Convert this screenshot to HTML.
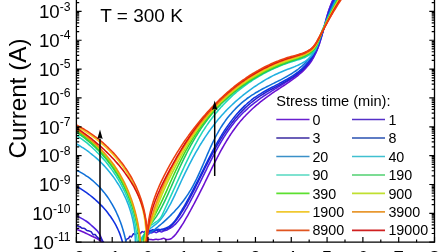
<!DOCTYPE html><html><head><meta charset="utf-8"><style>html,body{margin:0;padding:0;background:#fff;overflow:hidden}svg{display:block}text{font-family:"Liberation Sans",Arial,sans-serif;fill:#000}</style></head><body>
<svg width="448" height="252" viewBox="0 0 448 252">
<defs><clipPath id="pa"><rect x="76.40" y="-20" width="358.10" height="262.20"/></clipPath></defs>
<g clip-path="url(#pa)" fill="none" stroke-width="1.55" stroke-linejoin="round" stroke-linecap="round">
<path stroke="#6a10d0" d="M76.40,229.40 C77.33,229.75 80.28,230.80 82.00,231.50 C83.72,232.20 85.03,232.82 86.70,233.60 C88.37,234.38 90.22,235.32 92.00,236.20 C93.78,237.08 95.78,237.93 97.40,238.90 C99.02,239.87 100.98,241.48 101.70,242.00"/>
<path stroke="#6a10d0" d="M147.50,242.00 C147.57,241.60 147.48,240.03 147.90,239.60 C148.32,239.17 149.15,239.37 150.00,239.40 C150.85,239.43 152.00,239.82 153.00,239.80 C154.00,239.78 155.08,239.33 156.00,239.30 C156.92,239.27 157.67,239.63 158.50,239.60 C159.33,239.57 160.17,239.33 161.00,239.10 C161.83,238.87 162.75,238.18 163.50,238.20 C164.25,238.22 164.75,238.98 165.50,239.20 C166.25,239.42 167.08,239.57 168.00,239.50 C168.92,239.43 170.08,239.28 171.00,238.80 C171.92,238.32 172.77,237.26 173.50,236.60 C174.23,235.94 174.80,235.45 175.36,234.82 C175.92,234.18 176.37,233.47 176.86,232.79 C177.35,232.11 177.84,231.42 178.32,230.73 C178.80,230.04 179.27,229.35 179.73,228.65 C180.20,227.96 180.65,227.25 181.11,226.55 C181.56,225.84 182.00,225.14 182.44,224.42 C182.89,223.71 183.32,223.00 183.75,222.28 C184.18,221.56 184.61,220.84 185.03,220.12 C185.46,219.40 185.88,218.68 186.29,217.95 C186.71,217.22 187.12,216.50 187.53,215.77 C187.94,215.04 188.35,214.31 188.76,213.58 C189.17,212.85 189.57,212.11 189.97,211.38 C190.38,210.65 190.78,209.91 191.18,209.18 C191.58,208.44 191.97,207.71 192.37,206.97 C192.77,206.23 193.16,205.49 193.56,204.75 C193.95,204.02 194.34,203.28 194.73,202.53 C195.12,201.79 195.51,201.05 195.90,200.31 C196.29,199.56 196.67,198.82 197.06,198.07 C197.45,197.33 197.83,196.58 198.21,195.83 C198.60,195.08 198.98,194.33 199.36,193.58 C199.74,192.83 200.12,192.08 200.50,191.33 C200.88,190.58 201.26,189.82 201.64,189.07 C202.02,188.32 202.39,187.56 202.77,186.80 C203.15,186.05 203.52,185.29 203.90,184.53 C204.28,183.77 204.65,183.01 205.02,182.25 C205.40,181.49 205.77,180.72 206.15,179.96 C206.52,179.20 206.90,178.43 207.27,177.67 C207.64,176.90 208.02,176.13 208.39,175.37 C208.76,174.60 209.14,173.83 209.51,173.07 C209.89,172.30 210.26,171.53 210.64,170.77 C211.02,170.00 211.39,169.23 211.77,168.46 C212.15,167.70 212.53,166.93 212.91,166.16 C213.29,165.40 213.67,164.63 214.05,163.87 C214.44,163.10 214.82,162.34 215.21,161.58 C215.59,160.81 215.98,160.05 216.37,159.29 C216.76,158.53 217.15,157.77 217.55,157.01 C217.94,156.25 218.34,155.50 218.74,154.74 C219.14,153.99 219.54,153.23 219.94,152.48 C220.35,151.73 220.75,150.98 221.16,150.24 C221.57,149.49 221.99,148.74 222.40,148.00 C222.82,147.26 223.24,146.52 223.66,145.78 C224.08,145.05 224.51,144.31 224.94,143.58 C225.37,142.85 225.80,142.12 226.24,141.40 C226.68,140.67 227.12,139.95 227.56,139.23 C228.01,138.51 228.46,137.80 228.91,137.09 C229.37,136.38 229.82,135.67 230.29,134.96 C230.75,134.26 231.22,133.56 231.69,132.87 C232.17,132.17 232.64,131.48 233.13,130.79 C233.61,130.11 234.10,129.42 234.59,128.75 C235.08,128.07 235.58,127.39 236.09,126.73 C236.59,126.06 237.10,125.40 237.62,124.74 C238.13,124.08 238.66,123.43 239.18,122.78 C239.71,122.13 240.25,121.49 240.79,120.85 C241.33,120.22 241.87,119.59 242.43,118.96 C242.98,118.33 243.54,117.71 244.10,117.10 C244.67,116.48 245.24,115.87 245.81,115.27 C246.39,114.66 246.97,114.07 247.56,113.47 C248.15,112.88 248.74,112.29 249.34,111.70 C249.94,111.12 250.54,110.54 251.15,109.96 C251.76,109.39 252.38,108.82 253.00,108.25 C253.62,107.69 254.25,107.13 254.88,106.57 C255.51,106.02 256.15,105.47 256.79,104.92 C257.43,104.37 258.08,103.83 258.73,103.29 C259.38,102.75 260.04,102.22 260.70,101.69 C261.36,101.16 262.03,100.64 262.70,100.12 C263.37,99.60 264.04,99.08 264.73,98.57 C265.41,98.06 266.09,97.55 266.78,97.04 C267.47,96.54 268.17,96.04 268.86,95.54 C269.56,95.05 270.27,94.56 270.97,94.07 C271.68,93.58 272.39,93.09 273.11,92.61 C273.82,92.13 274.54,91.65 275.26,91.17 C275.97,90.69 276.70,90.22 277.42,89.74 C278.14,89.27 278.86,88.80 279.58,88.32 C280.31,87.85 281.03,87.38 281.75,86.90 C282.47,86.43 283.19,85.96 283.91,85.48 C284.63,85.01 285.35,84.53 286.06,84.05 C286.78,83.58 287.49,83.10 288.19,82.62 C288.90,82.13 289.60,81.65 290.30,81.16 C291.00,80.67 291.69,80.18 292.38,79.68 C293.07,79.19 293.75,78.69 294.42,78.18 C295.10,77.67 295.76,77.16 296.42,76.65 C297.08,76.13 297.74,75.61 298.38,75.08 C299.02,74.55 299.66,74.01 300.28,73.47 C300.90,72.93 301.52,72.38 302.12,71.82 C302.73,71.26 303.32,70.69 303.90,70.12 C304.48,69.54 305.05,68.96 305.61,68.36 C306.17,67.77 306.71,67.16 307.24,66.55 C307.77,65.93 308.29,65.31 308.79,64.67 C309.29,64.04 309.78,63.39 310.25,62.73 C310.72,62.07 311.18,61.40 311.62,60.71 C312.06,60.03 312.48,59.33 312.90,58.63 C313.31,57.92 313.70,57.21 314.09,56.48 C314.47,55.75 314.84,55.02 315.20,54.27 C315.56,53.53 315.91,52.77 316.25,52.01 C316.58,51.24 316.91,50.47 317.22,49.69 C317.54,48.92 317.84,48.13 318.14,47.34 C318.44,46.54 318.72,45.74 319.00,44.94 C319.28,44.14 319.55,43.32 319.82,42.51 C320.08,41.69 320.34,40.87 320.59,40.05 C320.85,39.22 321.09,38.39 321.33,37.56 C321.57,36.73 321.81,35.89 322.04,35.06 C322.28,34.22 322.51,33.38 322.73,32.54 C322.96,31.70 323.18,30.85 323.41,30.01 C323.63,29.17 323.85,28.32 324.07,27.48 C324.29,26.63 324.51,25.79 324.73,24.95 C324.95,24.10 325.17,23.26 325.39,22.42 C325.61,21.58 325.83,20.74 326.06,19.90 C326.28,19.07 326.51,18.23 326.74,17.40 C326.97,16.57 327.20,15.75 327.44,14.92 C327.68,14.10 327.93,13.28 328.18,12.47 C328.43,11.66 328.68,10.85 328.94,10.05 C329.20,9.25 329.47,8.45 329.74,7.66 C330.02,6.87 330.30,6.09 330.59,5.31 C330.89,4.54 331.19,3.77 331.50,3.01 C331.81,2.26 332.13,1.50 332.46,0.76 C332.79,0.02 333.13,-0.71 333.48,-1.43 C333.83,-2.15 334.20,-2.86 334.57,-3.56 C334.95,-4.26 335.55,-5.29 335.74,-5.63"/>
<path stroke="#5020e0" d="M76.40,215.60 C77.40,216.15 80.80,218.00 82.40,218.90 C84.00,219.80 84.57,219.98 86.00,221.00 C87.43,222.02 89.10,223.33 91.00,225.00 C92.90,226.67 95.82,229.17 97.40,231.00 C98.98,232.83 99.65,234.17 100.50,236.00 C101.35,237.83 102.17,241.00 102.50,242.00"/>
<path stroke="#5020e0" d="M147.00,233.00 C147.33,232.87 148.25,232.20 149.00,232.20 C149.75,232.20 150.67,233.07 151.50,233.00 C152.33,232.93 153.17,231.87 154.00,231.80 C154.83,231.73 155.67,232.70 156.50,232.60 C157.33,232.50 158.17,231.30 159.00,231.20 C159.83,231.10 160.67,232.07 161.50,232.00 C162.33,231.93 163.08,231.13 164.00,230.80 C164.92,230.47 165.92,230.47 167.00,230.00 C168.08,229.53 169.56,228.57 170.50,228.00 C171.44,227.43 171.99,227.11 172.67,226.60 C173.35,226.08 173.96,225.49 174.57,224.91 C175.18,224.34 175.78,223.74 176.35,223.13 C176.93,222.52 177.48,221.89 178.02,221.26 C178.56,220.62 179.08,219.97 179.59,219.31 C180.10,218.64 180.59,217.97 181.07,217.28 C181.55,216.60 182.02,215.91 182.47,215.21 C182.93,214.51 183.38,213.80 183.81,213.08 C184.25,212.37 184.68,211.65 185.10,210.92 C185.52,210.20 185.94,209.47 186.35,208.73 C186.76,208.00 187.16,207.27 187.56,206.53 C187.96,205.80 188.36,205.06 188.76,204.33 C189.16,203.59 189.55,202.86 189.94,202.12 C190.34,201.39 190.73,200.65 191.12,199.91 C191.50,199.18 191.89,198.44 192.28,197.70 C192.66,196.97 193.05,196.23 193.43,195.49 C193.81,194.75 194.19,194.01 194.57,193.27 C194.95,192.53 195.33,191.79 195.71,191.05 C196.08,190.31 196.46,189.57 196.83,188.83 C197.21,188.08 197.58,187.34 197.96,186.59 C198.33,185.85 198.71,185.10 199.08,184.36 C199.45,183.61 199.82,182.86 200.20,182.12 C200.57,181.37 200.94,180.62 201.31,179.87 C201.68,179.11 202.06,178.36 202.43,177.61 C202.80,176.85 203.17,176.10 203.55,175.34 C203.92,174.59 204.29,173.83 204.66,173.07 C205.04,172.31 205.41,171.55 205.79,170.79 C206.16,170.03 206.54,169.27 206.92,168.51 C207.29,167.74 207.67,166.98 208.05,166.22 C208.43,165.46 208.81,164.70 209.19,163.93 C209.57,163.17 209.96,162.41 210.34,161.65 C210.73,160.89 211.12,160.13 211.51,159.37 C211.89,158.61 212.29,157.85 212.68,157.09 C213.07,156.33 213.47,155.57 213.87,154.82 C214.26,154.06 214.66,153.31 215.07,152.55 C215.47,151.80 215.87,151.05 216.28,150.30 C216.69,149.55 217.10,148.80 217.52,148.06 C217.93,147.31 218.35,146.57 218.77,145.83 C219.19,145.09 219.61,144.35 220.04,143.62 C220.47,142.89 220.90,142.15 221.33,141.42 C221.77,140.70 222.21,139.97 222.65,139.25 C223.09,138.53 223.54,137.81 223.99,137.09 C224.44,136.38 224.89,135.67 225.35,134.96 C225.81,134.25 226.27,133.55 226.74,132.85 C227.21,132.15 227.68,131.46 228.16,130.77 C228.64,130.08 229.12,129.39 229.61,128.71 C230.09,128.03 230.59,127.36 231.08,126.69 C231.58,126.02 232.09,125.35 232.59,124.69 C233.10,124.03 233.62,123.38 234.14,122.73 C234.66,122.09 235.18,121.44 235.71,120.81 C236.25,120.17 236.78,119.54 237.33,118.92 C237.87,118.29 238.42,117.68 238.98,117.07 C239.53,116.46 240.10,115.85 240.67,115.26 C241.23,114.66 241.81,114.07 242.39,113.48 C242.97,112.90 243.56,112.32 244.16,111.75 C244.75,111.18 245.35,110.62 245.96,110.06 C246.56,109.50 247.18,108.95 247.79,108.40 C248.41,107.85 249.03,107.31 249.66,106.77 C250.29,106.24 250.93,105.71 251.57,105.18 C252.21,104.65 252.85,104.13 253.50,103.62 C254.15,103.10 254.81,102.59 255.47,102.09 C256.13,101.58 256.80,101.08 257.47,100.58 C258.14,100.08 258.81,99.59 259.49,99.10 C260.17,98.61 260.86,98.13 261.55,97.65 C262.24,97.16 262.93,96.69 263.63,96.21 C264.33,95.74 265.03,95.27 265.73,94.80 C266.44,94.34 267.15,93.87 267.87,93.41 C268.58,92.95 269.30,92.49 270.02,92.04 C270.74,91.59 271.47,91.13 272.20,90.68 C272.93,90.23 273.66,89.79 274.39,89.34 C275.12,88.89 275.86,88.45 276.59,88.00 C277.33,87.56 278.06,87.11 278.80,86.67 C279.54,86.22 280.27,85.78 281.01,85.33 C281.74,84.88 282.48,84.44 283.21,83.99 C283.94,83.54 284.67,83.09 285.40,82.64 C286.12,82.18 286.85,81.73 287.57,81.27 C288.28,80.81 289.00,80.35 289.71,79.88 C290.42,79.42 291.13,78.95 291.83,78.47 C292.53,78.00 293.22,77.52 293.91,77.03 C294.60,76.55 295.28,76.06 295.95,75.56 C296.62,75.06 297.29,74.56 297.94,74.05 C298.60,73.54 299.25,73.03 299.89,72.50 C300.52,71.98 301.15,71.45 301.77,70.91 C302.39,70.37 302.99,69.82 303.59,69.26 C304.18,68.70 304.77,68.13 305.34,67.56 C305.91,66.98 306.47,66.39 307.01,65.80 C307.56,65.20 308.09,64.59 308.61,63.97 C309.12,63.35 309.63,62.72 310.11,62.08 C310.60,61.44 311.07,60.78 311.53,60.11 C311.98,59.45 312.42,58.76 312.84,58.07 C313.27,57.38 313.67,56.67 314.07,55.96 C314.46,55.24 314.84,54.51 315.20,53.77 C315.57,53.03 315.92,52.28 316.26,51.53 C316.60,50.77 316.93,50.00 317.24,49.22 C317.56,48.45 317.87,47.66 318.16,46.87 C318.46,46.08 318.75,45.28 319.03,44.48 C319.30,43.67 319.57,42.86 319.84,42.04 C320.10,41.22 320.35,40.40 320.60,39.57 C320.85,38.75 321.10,37.92 321.34,37.08 C321.58,36.25 321.81,35.41 322.04,34.57 C322.27,33.73 322.50,32.89 322.72,32.04 C322.95,31.20 323.17,30.35 323.39,29.51 C323.61,28.66 323.83,27.82 324.05,26.97 C324.28,26.13 324.49,25.28 324.72,24.44 C324.94,23.60 325.16,22.75 325.39,21.92 C325.61,21.08 325.84,20.24 326.07,19.41 C326.31,18.58 326.54,17.75 326.78,16.92 C327.02,16.10 327.27,15.28 327.52,14.46 C327.77,13.65 328.03,12.84 328.30,12.04 C328.56,11.24 328.84,10.44 329.12,9.65 C329.40,8.87 329.69,8.08 329.99,7.31 C330.29,6.54 330.60,5.78 330.92,5.02 C331.25,4.27 331.58,3.53 331.92,2.79 C332.27,2.06 332.62,1.34 332.99,0.63 C333.36,-0.08 333.75,-0.78 334.15,-1.47 C334.55,-2.16 334.96,-2.83 335.39,-3.49 C335.82,-4.15 336.50,-5.11 336.73,-5.43"/>
<path stroke="#2a1ec8" d="M76.40,225.00 C76.67,225.20 77.40,225.90 78.00,226.20 C78.60,226.50 79.33,226.47 80.00,226.80 C80.67,227.13 81.23,227.92 82.00,228.20 C82.77,228.48 83.82,228.13 84.60,228.50 C85.38,228.87 86.05,230.02 86.70,230.40 C87.35,230.78 87.78,230.58 88.50,230.80 C89.22,231.02 90.23,231.07 91.00,231.70 C91.77,232.33 92.43,234.13 93.10,234.60 C93.77,235.07 94.35,234.13 95.00,234.50 C95.65,234.87 96.23,236.07 97.00,236.80 C97.77,237.53 98.93,238.70 99.60,238.90 C100.27,239.10 100.60,237.82 101.00,238.00 C101.40,238.18 101.58,239.33 102.00,240.00 C102.42,240.67 103.25,241.67 103.50,242.00"/>
<path stroke="#2a1ec8" d="M125.60,241.00 C125.83,240.67 126.52,239.42 127.00,239.00 C127.48,238.58 128.00,238.97 128.50,238.50 C129.00,238.03 129.50,236.48 130.00,236.20 C130.50,235.92 130.90,237.20 131.50,236.80 C132.10,236.40 132.93,234.17 133.60,233.80 C134.27,233.43 134.75,234.75 135.50,234.60 C136.25,234.45 137.35,233.03 138.10,232.90 C138.85,232.77 139.35,234.02 140.00,233.80 C140.65,233.58 141.33,231.87 142.00,231.60 C142.67,231.33 143.33,232.33 144.00,232.20 C144.67,232.07 145.25,230.87 146.00,230.80 C146.75,230.73 147.67,231.88 148.50,231.80 C149.33,231.72 150.17,230.35 151.00,230.30 C151.83,230.25 152.67,231.55 153.50,231.50 C154.33,231.45 155.17,230.08 156.00,230.00 C156.83,229.92 157.67,231.07 158.50,231.00 C159.33,230.93 160.17,229.77 161.00,229.60 C161.83,229.43 162.53,230.17 163.50,230.00 C164.47,229.83 165.83,228.99 166.80,228.60 C167.77,228.21 168.62,228.13 169.35,227.69 C170.08,227.25 170.57,226.55 171.16,225.96 C171.75,225.37 172.32,224.77 172.88,224.16 C173.44,223.55 173.98,222.93 174.51,222.29 C175.05,221.66 175.57,221.02 176.07,220.37 C176.58,219.72 177.08,219.05 177.57,218.39 C178.06,217.72 178.53,217.04 179.00,216.36 C179.47,215.68 179.93,214.99 180.39,214.30 C180.85,213.60 181.29,212.90 181.74,212.20 C182.18,211.50 182.62,210.79 183.05,210.09 C183.49,209.38 183.91,208.66 184.34,207.95 C184.76,207.23 185.18,206.52 185.60,205.79 C186.02,205.07 186.43,204.35 186.84,203.62 C187.25,202.90 187.65,202.17 188.06,201.43 C188.46,200.70 188.86,199.97 189.26,199.23 C189.65,198.49 190.05,197.75 190.44,197.01 C190.83,196.27 191.22,195.53 191.61,194.78 C191.99,194.04 192.38,193.29 192.76,192.54 C193.14,191.79 193.52,191.04 193.91,190.29 C194.29,189.54 194.66,188.78 195.04,188.03 C195.42,187.27 195.80,186.52 196.17,185.76 C196.55,185.00 196.93,184.24 197.30,183.48 C197.68,182.72 198.05,181.96 198.43,181.20 C198.80,180.44 199.18,179.68 199.56,178.92 C199.93,178.16 200.31,177.39 200.68,176.63 C201.06,175.87 201.44,175.11 201.82,174.34 C202.19,173.58 202.57,172.82 202.95,172.05 C203.33,171.29 203.71,170.53 204.09,169.76 C204.47,169.00 204.85,168.24 205.24,167.48 C205.62,166.71 206.00,165.95 206.39,165.19 C206.78,164.43 207.16,163.67 207.55,162.91 C207.94,162.15 208.33,161.39 208.72,160.63 C209.11,159.88 209.51,159.12 209.90,158.36 C210.30,157.61 210.70,156.86 211.10,156.10 C211.49,155.35 211.90,154.60 212.30,153.85 C212.70,153.10 213.11,152.35 213.52,151.61 C213.93,150.86 214.34,150.12 214.75,149.38 C215.17,148.63 215.58,147.89 216.00,147.16 C216.42,146.42 216.84,145.68 217.27,144.95 C217.69,144.22 218.12,143.49 218.55,142.76 C218.98,142.03 219.42,141.31 219.85,140.59 C220.29,139.86 220.73,139.14 221.18,138.43 C221.62,137.71 222.07,137.00 222.52,136.29 C222.97,135.58 223.43,134.87 223.89,134.17 C224.35,133.46 224.81,132.76 225.28,132.07 C225.75,131.37 226.22,130.68 226.69,129.99 C227.17,129.30 227.65,128.61 228.13,127.93 C228.62,127.25 229.11,126.57 229.60,125.90 C230.09,125.23 230.59,124.56 231.10,123.89 C231.60,123.23 232.11,122.57 232.62,121.91 C233.13,121.26 233.65,120.61 234.17,119.96 C234.70,119.32 235.23,118.67 235.76,118.04 C236.29,117.40 236.83,116.77 237.38,116.15 C237.92,115.52 238.47,114.90 239.03,114.28 C239.58,113.67 240.15,113.06 240.71,112.45 C241.28,111.85 241.86,111.25 242.44,110.66 C243.02,110.07 243.60,109.48 244.20,108.90 C244.79,108.32 245.39,107.74 245.99,107.17 C246.60,106.60 247.21,106.04 247.83,105.49 C248.45,104.93 249.07,104.38 249.71,103.84 C250.34,103.29 250.98,102.76 251.63,102.23 C252.27,101.70 252.93,101.18 253.59,100.66 C254.25,100.15 254.92,99.64 255.60,99.14 C256.27,98.63 256.96,98.14 257.65,97.65 C258.34,97.17 259.04,96.69 259.75,96.22 C260.46,95.75 261.17,95.28 261.89,94.83 C262.62,94.37 263.35,93.92 264.08,93.47 C264.81,93.03 265.56,92.59 266.30,92.15 C267.04,91.72 267.80,91.29 268.55,90.86 C269.30,90.44 270.06,90.01 270.82,89.59 C271.58,89.17 272.34,88.76 273.10,88.34 C273.86,87.93 274.63,87.51 275.39,87.10 C276.16,86.69 276.92,86.27 277.69,85.86 C278.45,85.45 279.22,85.04 279.98,84.62 C280.74,84.21 281.50,83.79 282.26,83.37 C283.01,82.96 283.77,82.54 284.52,82.11 C285.26,81.69 286.01,81.26 286.75,80.83 C287.49,80.40 288.23,79.97 288.96,79.53 C289.68,79.09 290.41,78.64 291.12,78.19 C291.84,77.74 292.55,77.28 293.25,76.82 C293.95,76.35 294.64,75.88 295.32,75.40 C296.00,74.92 296.67,74.44 297.33,73.94 C298.00,73.44 298.65,72.94 299.29,72.42 C299.93,71.90 300.55,71.38 301.17,70.84 C301.78,70.30 302.39,69.76 302.97,69.20 C303.56,68.64 304.14,68.06 304.70,67.48 C305.26,66.89 305.80,66.29 306.33,65.68 C306.86,65.07 307.37,64.44 307.87,63.81 C308.37,63.17 308.86,62.52 309.33,61.86 C309.80,61.20 310.26,60.52 310.70,59.84 C311.15,59.15 311.58,58.46 312.00,57.75 C312.42,57.05 312.83,56.33 313.23,55.61 C313.63,54.88 314.01,54.15 314.39,53.41 C314.77,52.66 315.14,51.91 315.49,51.15 C315.85,50.39 316.20,49.63 316.54,48.86 C316.88,48.08 317.21,47.30 317.54,46.52 C317.86,45.73 318.18,44.94 318.49,44.14 C318.80,43.34 319.10,42.54 319.40,41.73 C319.69,40.93 319.98,40.12 320.27,39.30 C320.56,38.49 320.84,37.67 321.12,36.85 C321.39,36.03 321.67,35.20 321.94,34.37 C322.21,33.55 322.47,32.72 322.74,31.89 C323.00,31.06 323.27,30.23 323.53,29.40 C323.79,28.57 324.05,27.74 324.30,26.91 C324.56,26.07 324.82,25.24 325.08,24.41 C325.34,23.59 325.59,22.76 325.85,21.93 C326.11,21.10 326.37,20.28 326.63,19.46 C326.90,18.64 327.16,17.82 327.43,17.00 C327.69,16.19 327.96,15.38 328.23,14.57 C328.51,13.76 328.78,12.96 329.07,12.16 C329.35,11.37 329.63,10.57 329.92,9.79 C330.21,9.00 330.51,8.22 330.81,7.45 C331.11,6.67 331.42,5.91 331.74,5.15 C332.05,4.39 332.37,3.64 332.70,2.90 C333.04,2.15 333.37,1.42 333.72,0.69 C334.07,-0.03 334.42,-0.75 334.79,-1.45 C335.15,-2.16 335.53,-2.85 335.91,-3.54 C336.30,-4.22 336.90,-5.22 337.10,-5.56"/>
<path stroke="#1030e0" d="M76.38,186.13 C76.76,186.36 77.90,187.02 78.66,187.48 C79.42,187.94 80.17,188.41 80.92,188.89 C81.66,189.36 82.41,189.85 83.15,190.34 C83.88,190.83 84.62,191.34 85.34,191.85 C86.07,192.36 86.79,192.87 87.51,193.40 C88.22,193.93 88.93,194.46 89.63,195.00 C90.34,195.55 91.03,196.10 91.72,196.66 C92.41,197.21 93.09,197.78 93.77,198.36 C94.45,198.93 95.11,199.52 95.78,200.11 C96.44,200.70 97.09,201.30 97.74,201.90 C98.38,202.51 99.02,203.13 99.65,203.75 C100.28,204.37 100.90,205.00 101.51,205.64 C102.12,206.28 102.72,206.93 103.32,207.58 C103.91,208.24 104.49,208.90 105.07,209.57 C105.64,210.24 106.21,210.92 106.76,211.60 C107.32,212.29 107.86,212.98 108.40,213.68 C108.93,214.38 109.46,215.09 109.97,215.80 C110.49,216.52 110.99,217.24 111.48,217.97 C111.97,218.70 112.45,219.44 112.92,220.18 C113.39,220.93 113.85,221.68 114.29,222.44 C114.74,223.20 115.17,223.97 115.59,224.74 C116.01,225.52 116.42,226.30 116.81,227.09 C117.21,227.88 117.59,228.68 117.96,229.48 C118.33,230.28 118.69,231.09 119.03,231.91 C119.37,232.73 119.70,233.55 120.02,234.39 C120.33,235.22 120.63,236.06 120.92,236.90 C121.20,237.75 121.48,238.60 121.73,239.46 C121.99,240.32 122.34,241.63 122.46,242.06"/>
<path stroke="#1030e0" d="M146.00,231.00 C146.38,230.83 147.52,230.00 148.30,230.00 C149.08,230.00 149.92,231.07 150.70,231.00 C151.48,230.93 152.20,229.70 153.00,229.60 C153.80,229.50 154.67,230.47 155.50,230.40 C156.33,230.33 157.17,229.30 158.00,229.20 C158.83,229.10 159.66,229.83 160.50,229.80 C161.34,229.77 162.20,229.31 163.05,229.04 C163.89,228.78 164.77,228.52 165.56,228.20 C166.36,227.88 167.11,227.50 167.84,227.10 C168.56,226.69 169.24,226.24 169.89,225.76 C170.54,225.28 171.16,224.77 171.75,224.23 C172.34,223.68 172.90,223.11 173.45,222.52 C173.99,221.93 174.51,221.30 175.01,220.67 C175.51,220.03 175.99,219.38 176.46,218.71 C176.93,218.04 177.39,217.35 177.83,216.66 C178.28,215.97 178.72,215.27 179.15,214.57 C179.59,213.87 180.02,213.16 180.45,212.45 C180.88,211.74 181.30,211.03 181.73,210.32 C182.15,209.60 182.57,208.89 182.99,208.17 C183.41,207.46 183.83,206.74 184.24,206.02 C184.66,205.30 185.07,204.58 185.48,203.85 C185.89,203.13 186.30,202.40 186.71,201.68 C187.11,200.95 187.52,200.22 187.92,199.49 C188.33,198.76 188.73,198.03 189.13,197.29 C189.53,196.56 189.92,195.82 190.32,195.09 C190.71,194.35 191.11,193.61 191.50,192.87 C191.90,192.13 192.29,191.39 192.68,190.65 C193.07,189.91 193.45,189.16 193.84,188.41 C194.23,187.67 194.61,186.92 195.00,186.17 C195.38,185.42 195.77,184.67 196.15,183.92 C196.53,183.17 196.91,182.42 197.29,181.67 C197.67,180.91 198.05,180.16 198.43,179.40 C198.81,178.64 199.18,177.89 199.56,177.13 C199.94,176.37 200.31,175.61 200.69,174.85 C201.07,174.09 201.44,173.33 201.82,172.57 C202.19,171.81 202.57,171.05 202.94,170.29 C203.32,169.53 203.70,168.77 204.07,168.01 C204.45,167.25 204.82,166.49 205.20,165.73 C205.58,164.97 205.96,164.21 206.33,163.45 C206.71,162.69 207.09,161.93 207.47,161.17 C207.85,160.41 208.23,159.65 208.62,158.89 C209.00,158.14 209.38,157.38 209.77,156.62 C210.16,155.87 210.54,155.12 210.93,154.36 C211.32,153.61 211.71,152.86 212.10,152.11 C212.50,151.36 212.89,150.61 213.29,149.86 C213.68,149.12 214.08,148.37 214.49,147.63 C214.89,146.88 215.29,146.14 215.70,145.40 C216.10,144.67 216.51,143.93 216.93,143.19 C217.34,142.46 217.75,141.73 218.17,141.00 C218.59,140.27 219.01,139.54 219.44,138.82 C219.86,138.09 220.29,137.37 220.72,136.65 C221.15,135.94 221.59,135.22 222.03,134.51 C222.47,133.80 222.91,133.09 223.36,132.38 C223.81,131.68 224.26,130.97 224.71,130.28 C225.17,129.58 225.63,128.88 226.09,128.19 C226.56,127.50 227.03,126.81 227.50,126.13 C227.97,125.45 228.45,124.77 228.94,124.09 C229.42,123.42 229.91,122.75 230.40,122.08 C230.90,121.42 231.39,120.76 231.90,120.10 C232.40,119.44 232.91,118.79 233.43,118.14 C233.94,117.50 234.47,116.85 234.99,116.22 C235.52,115.58 236.05,114.95 236.59,114.32 C237.13,113.70 237.68,113.08 238.23,112.46 C238.78,111.85 239.34,111.24 239.90,110.64 C240.47,110.04 241.04,109.44 241.62,108.85 C242.19,108.26 242.78,107.68 243.37,107.10 C243.96,106.52 244.56,105.95 245.17,105.39 C245.77,104.83 246.39,104.27 247.01,103.72 C247.63,103.17 248.25,102.63 248.89,102.09 C249.53,101.56 250.17,101.03 250.82,100.51 C251.47,99.99 252.13,99.48 252.80,98.97 C253.47,98.47 254.14,97.97 254.82,97.49 C255.51,97.00 256.20,96.52 256.90,96.05 C257.60,95.58 258.31,95.11 259.03,94.66 C259.74,94.20 260.46,93.75 261.19,93.31 C261.92,92.87 262.66,92.43 263.40,92.00 C264.14,91.57 264.89,91.15 265.64,90.73 C266.39,90.31 267.14,89.89 267.90,89.48 C268.66,89.07 269.42,88.66 270.18,88.25 C270.94,87.84 271.71,87.44 272.48,87.04 C273.24,86.63 274.01,86.23 274.78,85.83 C275.54,85.43 276.31,85.03 277.08,84.63 C277.84,84.23 278.61,83.83 279.37,83.42 C280.14,83.02 280.90,82.62 281.66,82.21 C282.41,81.80 283.17,81.40 283.92,80.98 C284.67,80.57 285.42,80.16 286.16,79.74 C286.90,79.32 287.64,78.89 288.37,78.46 C289.10,78.03 289.83,77.60 290.55,77.16 C291.26,76.72 291.97,76.27 292.68,75.82 C293.38,75.36 294.07,74.90 294.76,74.43 C295.44,73.96 296.12,73.48 296.78,73.00 C297.45,72.51 298.10,72.01 298.75,71.51 C299.39,71.00 300.02,70.48 300.64,69.96 C301.26,69.43 301.87,68.89 302.47,68.34 C303.06,67.79 303.64,67.23 304.21,66.65 C304.78,66.08 305.33,65.49 305.87,64.89 C306.40,64.28 306.92,63.67 307.43,63.04 C307.94,62.41 308.43,61.77 308.91,61.11 C309.40,60.46 309.86,59.80 310.32,59.12 C310.77,58.44 311.21,57.76 311.64,57.06 C312.07,56.36 312.49,55.65 312.90,54.93 C313.31,54.22 313.71,53.49 314.09,52.75 C314.48,52.02 314.86,51.27 315.23,50.52 C315.60,49.77 315.96,49.01 316.31,48.25 C316.66,47.48 317.00,46.71 317.34,45.93 C317.67,45.15 318.00,44.36 318.32,43.57 C318.65,42.78 318.96,41.98 319.27,41.18 C319.58,40.38 319.88,39.58 320.18,38.77 C320.48,37.96 320.78,37.15 321.07,36.33 C321.36,35.52 321.64,34.70 321.93,33.88 C322.21,33.06 322.49,32.24 322.77,31.42 C323.05,30.59 323.32,29.77 323.60,28.95 C323.87,28.12 324.14,27.30 324.42,26.48 C324.69,25.65 324.96,24.83 325.23,24.01 C325.51,23.19 325.78,22.37 326.05,21.55 C326.32,20.73 326.60,19.91 326.88,19.10 C327.15,18.29 327.43,17.48 327.71,16.67 C327.99,15.87 328.28,15.07 328.57,14.27 C328.85,13.47 329.15,12.68 329.44,11.89 C329.74,11.11 330.04,10.33 330.35,9.55 C330.65,8.78 330.96,8.01 331.28,7.25 C331.60,6.49 331.92,5.73 332.25,4.99 C332.59,4.24 332.92,3.51 333.27,2.78 C333.62,2.05 333.97,1.33 334.33,0.62 C334.70,-0.09 335.07,-0.79 335.45,-1.48 C335.83,-2.17 336.22,-2.85 336.62,-3.51 C337.03,-4.18 337.66,-5.15 337.86,-5.48"/>
<path stroke="#1070d8" d="M76.28,170.30 C76.68,170.48 77.88,171.03 78.67,171.42 C79.45,171.81 80.23,172.22 80.99,172.63 C81.76,173.05 82.51,173.48 83.26,173.92 C84.00,174.37 84.74,174.82 85.46,175.29 C86.19,175.76 86.90,176.24 87.61,176.73 C88.31,177.22 89.01,177.73 89.69,178.24 C90.38,178.76 91.05,179.29 91.72,179.82 C92.38,180.36 93.04,180.91 93.69,181.47 C94.33,182.03 94.97,182.60 95.59,183.19 C96.22,183.77 96.84,184.36 97.45,184.96 C98.05,185.56 98.65,186.17 99.24,186.79 C99.83,187.41 100.41,188.04 100.98,188.68 C101.55,189.32 102.11,189.97 102.66,190.63 C103.21,191.28 103.75,191.95 104.28,192.62 C104.81,193.30 105.33,193.98 105.85,194.67 C106.36,195.36 106.86,196.05 107.36,196.76 C107.85,197.46 108.34,198.17 108.82,198.89 C109.29,199.61 109.76,200.34 110.22,201.07 C110.68,201.80 111.12,202.54 111.56,203.28 C112.00,204.03 112.44,204.78 112.86,205.54 C113.28,206.29 113.69,207.05 114.10,207.82 C114.50,208.59 114.90,209.36 115.28,210.14 C115.67,210.91 116.05,211.70 116.42,212.48 C116.79,213.27 117.15,214.06 117.50,214.85 C117.85,215.65 118.19,216.45 118.53,217.25 C118.86,218.05 119.19,218.86 119.50,219.66 C119.82,220.47 120.13,221.28 120.43,222.10 C120.73,222.91 121.02,223.73 121.30,224.55 C121.59,225.37 121.86,226.19 122.13,227.01 C122.39,227.83 122.65,228.66 122.90,229.49 C123.15,230.31 123.39,231.14 123.62,231.97 C123.86,232.80 124.08,233.63 124.30,234.46 C124.51,235.29 124.72,236.12 124.92,236.95 C125.12,237.78 125.31,238.61 125.50,239.44 C125.68,240.27 125.94,241.52 126.02,241.94"/>
<path stroke="#1070d8" d="M137.83,241.54 C138.17,241.31 139.19,240.63 139.87,240.17 C140.56,239.71 141.24,239.25 141.92,238.78 C142.60,238.32 143.28,237.84 143.96,237.37 C144.64,236.89 145.32,236.41 146.00,235.93 C146.68,235.44 147.35,234.95 148.03,234.46 C148.70,233.97 149.38,233.47 150.05,232.97 C150.72,232.47 151.39,231.97 152.06,231.46 C152.73,230.95 153.39,230.43 154.05,229.91 C154.72,229.40 155.38,228.87 156.04,228.35 C156.69,227.82 157.35,227.29 158.00,226.75 C158.65,226.22 159.30,225.68 159.95,225.13 C160.60,224.59 161.24,224.04 161.88,223.49 C162.52,222.93 163.15,222.38 163.79,221.81 C164.42,221.25 165.04,220.68 165.67,220.11 C166.29,219.54 166.91,218.97 167.53,218.39 C168.14,217.80 168.75,217.22 169.36,216.63 C169.96,216.04 170.57,215.45 171.16,214.85 C171.76,214.25 172.35,213.64 172.93,213.04 C173.52,212.43 174.10,211.82 174.68,211.20 C175.25,210.58 175.82,209.96 176.38,209.33 C176.95,208.70 177.50,208.07 178.05,207.43 C178.60,206.80 179.15,206.16 179.69,205.51 C180.23,204.86 180.76,204.21 181.28,203.56 C181.81,202.90 182.32,202.24 182.84,201.57 C183.35,200.91 183.85,200.23 184.35,199.56 C184.84,198.88 185.33,198.20 185.81,197.52 C186.30,196.83 186.77,196.14 187.23,195.44 C187.70,194.75 188.16,194.05 188.61,193.34 C189.06,192.63 189.50,191.92 189.93,191.21 C190.37,190.49 190.79,189.77 191.21,189.05 C191.63,188.32 192.04,187.59 192.45,186.86 C192.86,186.13 193.26,185.39 193.65,184.65 C194.05,183.91 194.43,183.17 194.82,182.42 C195.20,181.67 195.58,180.92 195.95,180.17 C196.33,179.41 196.69,178.66 197.06,177.90 C197.42,177.14 197.78,176.38 198.14,175.61 C198.50,174.85 198.85,174.08 199.20,173.31 C199.55,172.54 199.89,171.77 200.24,171.00 C200.58,170.23 200.93,169.46 201.27,168.68 C201.61,167.91 201.94,167.13 202.28,166.35 C202.62,165.57 202.95,164.79 203.29,164.02 C203.62,163.24 203.95,162.46 204.29,161.68 C204.62,160.90 204.95,160.11 205.29,159.33 C205.62,158.55 205.95,157.77 206.29,156.99 C206.62,156.21 206.95,155.43 207.29,154.65 C207.63,153.87 207.96,153.09 208.30,152.32 C208.64,151.54 208.98,150.76 209.33,149.99 C209.67,149.21 210.02,148.44 210.37,147.66 C210.72,146.89 211.07,146.12 211.42,145.35 C211.78,144.58 212.14,143.81 212.50,143.05 C212.87,142.28 213.23,141.52 213.61,140.76 C213.98,140.00 214.35,139.24 214.74,138.49 C215.12,137.74 215.50,136.98 215.90,136.24 C216.29,135.49 216.69,134.74 217.09,134.00 C217.50,133.26 217.91,132.52 218.33,131.79 C218.75,131.05 219.17,130.32 219.60,129.60 C220.03,128.87 220.47,128.15 220.92,127.43 C221.37,126.72 221.82,126.01 222.29,125.30 C222.75,124.59 223.22,123.89 223.70,123.19 C224.18,122.49 224.66,121.80 225.16,121.11 C225.65,120.43 226.15,119.75 226.66,119.07 C227.17,118.40 227.68,117.73 228.21,117.06 C228.73,116.40 229.26,115.74 229.80,115.09 C230.34,114.44 230.89,113.79 231.44,113.15 C231.99,112.52 232.56,111.88 233.12,111.26 C233.69,110.63 234.27,110.02 234.85,109.41 C235.43,108.80 236.02,108.19 236.62,107.60 C237.22,107.00 237.82,106.41 238.43,105.83 C239.05,105.25 239.67,104.68 240.29,104.11 C240.92,103.55 241.55,102.99 242.19,102.44 C242.83,101.90 243.48,101.36 244.13,100.82 C244.79,100.29 245.45,99.77 246.12,99.26 C246.79,98.74 247.46,98.24 248.14,97.75 C248.82,97.25 249.51,96.76 250.21,96.29 C250.91,95.81 251.61,95.35 252.32,94.89 C253.03,94.43 253.74,93.98 254.46,93.54 C255.18,93.10 255.91,92.66 256.64,92.24 C257.37,91.81 258.10,91.39 258.84,90.97 C259.58,90.56 260.33,90.15 261.07,89.74 C261.82,89.34 262.57,88.94 263.32,88.55 C264.08,88.15 264.83,87.76 265.59,87.37 C266.35,86.98 267.11,86.60 267.87,86.21 C268.63,85.83 269.39,85.45 270.15,85.07 C270.92,84.69 271.68,84.31 272.44,83.93 C273.21,83.55 273.97,83.18 274.73,82.80 C275.49,82.42 276.25,82.04 277.01,81.65 C277.77,81.27 278.53,80.89 279.29,80.50 C280.05,80.12 280.80,79.73 281.55,79.34 C282.30,78.94 283.05,78.55 283.79,78.15 C284.54,77.75 285.28,77.34 286.02,76.93 C286.75,76.52 287.49,76.11 288.21,75.68 C288.94,75.26 289.66,74.83 290.38,74.40 C291.10,73.96 291.81,73.52 292.51,73.07 C293.22,72.61 293.92,72.16 294.61,71.69 C295.30,71.22 295.99,70.74 296.66,70.25 C297.34,69.76 298.01,69.27 298.67,68.76 C299.33,68.25 299.98,67.73 300.62,67.20 C301.26,66.67 301.90,66.13 302.52,65.58 C303.14,65.03 303.76,64.47 304.36,63.89 C304.96,63.32 305.55,62.74 306.13,62.14 C306.70,61.55 307.27,60.95 307.82,60.33 C308.38,59.71 308.92,59.09 309.44,58.45 C309.97,57.81 310.48,57.16 310.98,56.50 C311.48,55.83 311.96,55.16 312.43,54.48 C312.90,53.79 313.35,53.10 313.79,52.39 C314.23,51.68 314.65,50.96 315.05,50.23 C315.46,49.50 315.84,48.75 316.21,48.00 C316.59,47.25 316.94,46.48 317.29,45.71 C317.63,44.94 317.97,44.16 318.29,43.38 C318.62,42.59 318.93,41.80 319.24,41.01 C319.55,40.22 319.85,39.42 320.15,38.62 C320.45,37.82 320.74,37.02 321.03,36.22 C321.32,35.42 321.61,34.62 321.90,33.81 C322.18,33.01 322.47,32.21 322.75,31.41 C323.03,30.61 323.31,29.80 323.60,29.00 C323.88,28.20 324.16,27.40 324.44,26.59 C324.72,25.79 325.00,24.99 325.28,24.19 C325.57,23.39 325.85,22.59 326.14,21.79 C326.42,20.99 326.71,20.20 327.00,19.40 C327.29,18.61 327.58,17.81 327.88,17.02 C328.18,16.23 328.48,15.44 328.78,14.65 C329.08,13.86 329.39,13.08 329.71,12.29 C330.02,11.51 330.34,10.73 330.66,9.95 C330.99,9.17 331.32,8.40 331.66,7.63 C331.99,6.85 332.34,6.09 332.69,5.32 C333.04,4.56 333.40,3.79 333.76,3.04 C334.13,2.28 334.51,1.53 334.89,0.78 C335.28,0.03 335.67,-0.72 336.07,-1.46 C336.48,-2.20 336.89,-2.94 337.31,-3.67 C337.74,-4.40 338.40,-5.48 338.62,-5.85"/>
<path stroke="#20b0e0" d="M76.48,143.89 C76.85,144.11 77.99,144.76 78.74,145.20 C79.48,145.65 80.23,146.10 80.96,146.56 C81.70,147.02 82.43,147.49 83.16,147.97 C83.88,148.45 84.60,148.94 85.32,149.43 C86.03,149.93 86.74,150.43 87.44,150.94 C88.14,151.45 88.84,151.97 89.53,152.50 C90.22,153.02 90.90,153.56 91.58,154.10 C92.26,154.64 92.93,155.19 93.60,155.74 C94.26,156.30 94.92,156.86 95.57,157.43 C96.23,158.01 96.87,158.58 97.51,159.17 C98.15,159.75 98.78,160.35 99.41,160.94 C100.03,161.54 100.65,162.15 101.27,162.76 C101.88,163.37 102.49,163.99 103.08,164.62 C103.68,165.24 104.27,165.88 104.86,166.52 C105.44,167.15 106.02,167.80 106.59,168.45 C107.16,169.10 107.73,169.76 108.28,170.42 C108.84,171.09 109.39,171.76 109.93,172.43 C110.47,173.11 111.00,173.79 111.53,174.48 C112.06,175.16 112.58,175.86 113.09,176.56 C113.60,177.25 114.10,177.96 114.60,178.67 C115.09,179.38 115.58,180.09 116.06,180.81 C116.54,181.53 117.01,182.26 117.48,182.99 C117.94,183.72 118.40,184.45 118.85,185.19 C119.29,185.93 119.73,186.68 120.17,187.43 C120.60,188.18 121.02,188.94 121.44,189.69 C121.85,190.45 122.26,191.22 122.66,191.99 C123.05,192.76 123.44,193.53 123.82,194.31 C124.20,195.08 124.58,195.86 124.94,196.65 C125.30,197.44 125.66,198.23 126.01,199.02 C126.35,199.81 126.69,200.61 127.02,201.41 C127.34,202.21 127.66,203.02 127.97,203.83 C128.28,204.64 128.58,205.45 128.88,206.26 C129.17,207.08 129.45,207.90 129.72,208.72 C130.00,209.54 130.26,210.37 130.52,211.20 C130.77,212.03 131.01,212.86 131.25,213.70 C131.48,214.53 131.71,215.37 131.93,216.21 C132.14,217.05 132.35,217.90 132.55,218.74 C132.74,219.59 132.93,220.44 133.11,221.29 C133.28,222.14 133.45,222.99 133.61,223.85 C133.76,224.71 133.91,225.57 134.05,226.43 C134.18,227.29 134.31,228.15 134.42,229.01 C134.54,229.88 134.65,230.75 134.74,231.62 C134.84,232.48 134.92,233.35 134.99,234.23 C135.07,235.10 135.13,235.97 135.19,236.85 C135.24,237.72 135.28,238.60 135.31,239.48 C135.34,240.36 135.36,241.68 135.38,242.12"/>
<path stroke="#20b0e0" d="M139.66,242.15 C139.83,241.75 140.33,240.50 140.72,239.72 C141.11,238.94 141.53,238.19 141.98,237.47 C142.42,236.75 142.90,236.06 143.40,235.39 C143.90,234.72 144.43,234.07 144.98,233.45 C145.53,232.83 146.10,232.23 146.69,231.64 C147.27,231.06 147.88,230.50 148.50,229.95 C149.12,229.40 149.76,228.87 150.40,228.35 C151.04,227.83 151.71,227.33 152.36,226.82 C153.02,226.32 153.69,225.82 154.34,225.32 C154.99,224.82 155.65,224.32 156.28,223.80 C156.92,223.28 157.54,222.76 158.14,222.21 C158.73,221.66 159.31,221.09 159.85,220.49 C160.39,219.90 160.90,219.28 161.40,218.64 C161.89,218.01 162.36,217.35 162.82,216.68 C163.29,216.02 163.74,215.34 164.18,214.67 C164.63,213.99 165.07,213.30 165.50,212.61 C165.93,211.92 166.35,211.22 166.77,210.51 C167.19,209.81 167.60,209.10 168.00,208.39 C168.41,207.67 168.81,206.95 169.20,206.23 C169.60,205.50 169.99,204.77 170.37,204.04 C170.76,203.31 171.14,202.57 171.51,201.83 C171.89,201.09 172.26,200.34 172.63,199.59 C173.00,198.85 173.37,198.10 173.73,197.34 C174.09,196.59 174.46,195.83 174.81,195.07 C175.17,194.31 175.53,193.55 175.89,192.79 C176.24,192.03 176.59,191.26 176.95,190.50 C177.30,189.73 177.65,188.96 178.01,188.20 C178.36,187.43 178.71,186.66 179.06,185.89 C179.42,185.13 179.77,184.36 180.12,183.59 C180.48,182.82 180.83,182.05 181.19,181.29 C181.55,180.52 181.91,179.75 182.27,178.99 C182.63,178.22 182.99,177.45 183.35,176.69 C183.71,175.93 184.08,175.16 184.45,174.40 C184.81,173.64 185.18,172.88 185.55,172.12 C185.92,171.36 186.29,170.60 186.67,169.84 C187.04,169.08 187.42,168.32 187.80,167.57 C188.18,166.81 188.56,166.06 188.94,165.31 C189.33,164.55 189.71,163.80 190.10,163.05 C190.49,162.30 190.88,161.55 191.27,160.81 C191.67,160.06 192.06,159.31 192.46,158.57 C192.86,157.83 193.26,157.08 193.66,156.34 C194.07,155.61 194.47,154.87 194.88,154.13 C195.29,153.39 195.70,152.66 196.12,151.93 C196.53,151.20 196.95,150.47 197.37,149.74 C197.79,149.01 198.22,148.28 198.65,147.56 C199.07,146.84 199.50,146.12 199.94,145.40 C200.37,144.68 200.81,143.96 201.25,143.25 C201.69,142.54 202.13,141.82 202.58,141.12 C203.03,140.41 203.48,139.70 203.94,139.00 C204.39,138.29 204.85,137.59 205.31,136.89 C205.77,136.20 206.24,135.50 206.71,134.81 C207.18,134.12 207.65,133.43 208.13,132.74 C208.61,132.06 209.09,131.37 209.58,130.69 C210.06,130.01 210.55,129.34 211.05,128.66 C211.54,127.99 212.04,127.32 212.54,126.65 C213.04,125.98 213.55,125.32 214.06,124.66 C214.57,124.00 215.09,123.34 215.61,122.69 C216.13,122.04 216.65,121.39 217.18,120.74 C217.71,120.10 218.25,119.45 218.79,118.82 C219.33,118.18 219.87,117.54 220.42,116.91 C220.97,116.28 221.52,115.65 222.08,115.03 C222.64,114.41 223.20,113.79 223.77,113.18 C224.34,112.56 224.91,111.95 225.49,111.34 C226.07,110.74 226.65,110.13 227.24,109.54 C227.82,108.94 228.41,108.34 229.01,107.75 C229.60,107.16 230.20,106.58 230.81,106.00 C231.41,105.41 232.02,104.84 232.63,104.26 C233.25,103.69 233.86,103.12 234.49,102.56 C235.11,101.99 235.73,101.43 236.36,100.87 C236.99,100.32 237.62,99.77 238.26,99.22 C238.90,98.67 239.54,98.13 240.18,97.59 C240.83,97.05 241.48,96.52 242.13,95.99 C242.78,95.46 243.44,94.93 244.09,94.41 C244.75,93.89 245.42,93.37 246.08,92.86 C246.75,92.35 247.42,91.84 248.09,91.34 C248.76,90.84 249.44,90.34 250.12,89.85 C250.80,89.35 251.48,88.86 252.17,88.38 C252.85,87.90 253.54,87.42 254.23,86.94 C254.93,86.47 255.62,86.00 256.32,85.53 C257.02,85.07 257.72,84.61 258.42,84.15 C259.12,83.70 259.83,83.25 260.54,82.80 C261.25,82.36 261.96,81.92 262.68,81.48 C263.39,81.05 264.11,80.62 264.84,80.19 C265.56,79.77 266.28,79.35 267.01,78.94 C267.74,78.53 268.48,78.12 269.21,77.72 C269.95,77.32 270.69,76.92 271.43,76.53 C272.18,76.15 272.92,75.76 273.68,75.39 C274.43,75.01 275.18,74.64 275.94,74.28 C276.70,73.91 277.46,73.56 278.23,73.20 C279.00,72.85 279.77,72.51 280.55,72.17 C281.32,71.84 282.10,71.51 282.89,71.18 C283.67,70.86 284.46,70.55 285.26,70.24 C286.05,69.93 286.85,69.63 287.65,69.32 C288.44,69.02 289.24,68.73 290.04,68.43 C290.84,68.13 291.64,67.83 292.44,67.53 C293.23,67.22 294.02,66.92 294.81,66.60 C295.59,66.28 296.38,65.96 297.15,65.62 C297.92,65.28 298.69,64.94 299.44,64.57 C300.19,64.21 300.94,63.83 301.67,63.43 C302.40,63.03 303.12,62.62 303.82,62.18 C304.52,61.74 305.21,61.28 305.88,60.80 C306.55,60.32 307.20,59.81 307.83,59.29 C308.47,58.76 309.08,58.21 309.67,57.64 C310.26,57.07 310.83,56.48 311.37,55.87 C311.91,55.26 312.43,54.62 312.93,53.97 C313.42,53.31 313.88,52.63 314.32,51.94 C314.75,51.24 315.16,50.52 315.53,49.78 C315.91,49.04 316.25,48.28 316.57,47.51 C316.90,46.74 317.19,45.94 317.48,45.15 C317.77,44.35 318.03,43.54 318.30,42.72 C318.56,41.91 318.81,41.09 319.07,40.27 C319.32,39.46 319.58,38.64 319.84,37.82 C320.10,37.01 320.37,36.20 320.65,35.40 C320.93,34.60 321.21,33.80 321.50,33.01 C321.79,32.21 322.09,31.42 322.39,30.64 C322.69,29.85 323.00,29.07 323.31,28.29 C323.63,27.51 323.95,26.73 324.27,25.96 C324.59,25.19 324.92,24.42 325.25,23.65 C325.58,22.88 325.92,22.12 326.26,21.36 C326.60,20.59 326.94,19.83 327.28,19.07 C327.63,18.31 327.98,17.56 328.33,16.80 C328.68,16.04 329.03,15.29 329.39,14.53 C329.74,13.78 330.10,13.02 330.46,12.27 C330.82,11.51 331.18,10.76 331.54,10.00 C331.90,9.25 332.26,8.50 332.62,7.74 C332.98,6.98 333.34,6.23 333.70,5.47 C334.06,4.71 334.42,3.95 334.78,3.19 C335.14,2.43 335.50,1.67 335.86,0.91 C336.21,0.14 336.57,-0.62 336.92,-1.39 C337.28,-2.16 337.63,-2.93 337.98,-3.70 C338.32,-4.48 338.84,-5.65 339.01,-6.03"/>
<path stroke="#20d8b8" d="M76.30,135.10 C76.65,135.34 77.72,136.06 78.41,136.55 C79.11,137.03 79.81,137.53 80.50,138.03 C81.19,138.53 81.87,139.03 82.55,139.54 C83.23,140.06 83.91,140.58 84.58,141.10 C85.25,141.63 85.91,142.16 86.57,142.70 C87.23,143.23 87.89,143.78 88.53,144.33 C89.18,144.88 89.83,145.43 90.47,146.00 C91.11,146.56 91.74,147.13 92.37,147.70 C92.99,148.27 93.62,148.85 94.23,149.44 C94.85,150.02 95.46,150.61 96.07,151.21 C96.68,151.81 97.28,152.41 97.87,153.01 C98.47,153.62 99.06,154.23 99.64,154.85 C100.22,155.47 100.80,156.09 101.37,156.72 C101.95,157.35 102.51,157.98 103.07,158.62 C103.63,159.26 104.19,159.91 104.74,160.56 C105.29,161.20 105.83,161.86 106.37,162.52 C106.90,163.18 107.43,163.84 107.96,164.51 C108.48,165.18 109.00,165.85 109.51,166.53 C110.03,167.21 110.53,167.89 111.03,168.58 C111.53,169.26 112.03,169.95 112.51,170.65 C113.00,171.35 113.48,172.05 113.96,172.75 C114.43,173.46 114.90,174.16 115.36,174.88 C115.82,175.59 116.28,176.31 116.73,177.03 C117.18,177.75 117.62,178.48 118.06,179.20 C118.49,179.93 118.92,180.67 119.34,181.40 C119.76,182.14 120.18,182.88 120.59,183.63 C121.00,184.37 121.40,185.12 121.79,185.87 C122.19,186.62 122.58,187.38 122.96,188.14 C123.34,188.90 123.71,189.66 124.08,190.43 C124.45,191.19 124.81,191.96 125.16,192.73 C125.51,193.51 125.86,194.28 126.20,195.06 C126.54,195.84 126.87,196.62 127.19,197.41 C127.52,198.19 127.83,198.98 128.14,199.77 C128.45,200.56 128.75,201.36 129.05,202.15 C129.34,202.95 129.63,203.75 129.91,204.55 C130.19,205.35 130.46,206.16 130.73,206.96 C130.99,207.77 131.25,208.58 131.50,209.39 C131.75,210.21 131.99,211.02 132.22,211.84 C132.46,212.66 132.68,213.48 132.90,214.30 C133.12,215.12 133.33,215.94 133.53,216.77 C133.73,217.59 133.93,218.42 134.11,219.25 C134.30,220.08 134.48,220.91 134.65,221.75 C134.82,222.58 134.98,223.42 135.14,224.26 C135.29,225.09 135.44,225.93 135.58,226.77 C135.71,227.61 135.84,228.46 135.96,229.30 C136.09,230.15 136.20,230.99 136.30,231.84 C136.41,232.68 136.50,233.53 136.59,234.38 C136.68,235.23 136.76,236.08 136.83,236.94 C136.90,237.79 136.96,238.64 137.01,239.50 C137.07,240.35 137.13,241.63 137.15,242.06"/>
<path stroke="#20d8b8" d="M141.09,242.08 C141.26,241.69 141.77,240.52 142.11,239.73 C142.44,238.94 142.77,238.14 143.10,237.35 C143.44,236.56 143.77,235.76 144.13,234.98 C144.48,234.20 144.84,233.43 145.23,232.68 C145.62,231.92 146.03,231.18 146.47,230.48 C146.91,229.77 147.37,229.08 147.88,228.43 C148.39,227.78 148.93,227.16 149.52,226.59 C150.11,226.01 150.76,225.49 151.42,224.98 C152.09,224.48 152.82,224.02 153.52,223.56 C154.23,223.09 154.97,222.66 155.67,222.19 C156.37,221.72 157.08,221.26 157.73,220.75 C158.37,220.24 159.00,219.72 159.55,219.13 C160.09,218.54 160.57,217.89 161.00,217.21 C161.44,216.53 161.80,215.78 162.17,215.05 C162.53,214.31 162.86,213.54 163.20,212.78 C163.54,212.02 163.88,211.26 164.23,210.50 C164.57,209.75 164.91,208.99 165.25,208.23 C165.60,207.48 165.94,206.72 166.28,205.96 C166.63,205.20 166.97,204.45 167.31,203.69 C167.66,202.93 168.00,202.18 168.35,201.42 C168.69,200.66 169.04,199.91 169.38,199.15 C169.73,198.39 170.08,197.63 170.42,196.88 C170.77,196.12 171.12,195.36 171.46,194.60 C171.81,193.84 172.16,193.08 172.50,192.32 C172.85,191.56 173.20,190.80 173.55,190.04 C173.89,189.28 174.24,188.52 174.59,187.76 C174.94,187.00 175.29,186.23 175.64,185.47 C175.99,184.71 176.34,183.94 176.68,183.18 C177.03,182.41 177.38,181.65 177.73,180.88 C178.08,180.11 178.43,179.34 178.78,178.57 C179.13,177.80 179.49,177.04 179.84,176.27 C180.19,175.50 180.54,174.72 180.90,173.95 C181.25,173.18 181.60,172.41 181.96,171.64 C182.31,170.87 182.67,170.10 183.03,169.33 C183.38,168.56 183.74,167.78 184.10,167.01 C184.46,166.24 184.82,165.47 185.19,164.70 C185.55,163.93 185.91,163.16 186.28,162.39 C186.65,161.62 187.01,160.85 187.38,160.09 C187.75,159.32 188.13,158.55 188.50,157.79 C188.87,157.02 189.25,156.25 189.63,155.49 C190.01,154.73 190.39,153.96 190.77,153.20 C191.15,152.44 191.54,151.68 191.92,150.92 C192.31,150.17 192.70,149.41 193.10,148.65 C193.49,147.90 193.89,147.14 194.28,146.39 C194.68,145.64 195.08,144.89 195.49,144.14 C195.90,143.40 196.30,142.65 196.71,141.91 C197.13,141.17 197.54,140.43 197.96,139.69 C198.38,138.95 198.80,138.21 199.23,137.48 C199.65,136.75 200.08,136.02 200.51,135.29 C200.95,134.56 201.38,133.84 201.82,133.11 C202.26,132.39 202.71,131.67 203.16,130.96 C203.61,130.24 204.06,129.53 204.52,128.82 C204.98,128.11 205.44,127.41 205.90,126.70 C206.37,126.00 206.84,125.30 207.32,124.61 C207.79,123.92 208.27,123.22 208.76,122.54 C209.25,121.85 209.74,121.17 210.23,120.49 C210.73,119.81 211.23,119.14 211.73,118.46 C212.24,117.79 212.75,117.13 213.26,116.47 C213.78,115.80 214.30,115.14 214.82,114.49 C215.35,113.84 215.88,113.19 216.41,112.54 C216.95,111.90 217.48,111.25 218.03,110.62 C218.57,109.98 219.12,109.35 219.67,108.72 C220.23,108.09 220.78,107.47 221.35,106.85 C221.91,106.23 222.48,105.62 223.05,105.00 C223.62,104.39 224.20,103.79 224.78,103.19 C225.36,102.59 225.94,101.99 226.53,101.40 C227.12,100.81 227.72,100.22 228.32,99.63 C228.92,99.05 229.52,98.47 230.13,97.90 C230.74,97.33 231.35,96.76 231.97,96.19 C232.58,95.63 233.20,95.07 233.83,94.52 C234.45,93.96 235.08,93.41 235.72,92.87 C236.35,92.32 236.99,91.78 237.63,91.25 C238.28,90.72 238.92,90.19 239.57,89.66 C240.23,89.14 240.88,88.62 241.54,88.10 C242.20,87.59 242.86,87.08 243.53,86.57 C244.20,86.07 244.87,85.57 245.55,85.07 C246.22,84.58 246.90,84.09 247.59,83.61 C248.27,83.12 248.96,82.64 249.65,82.17 C250.35,81.70 251.04,81.23 251.74,80.77 C252.44,80.30 253.15,79.85 253.85,79.39 C254.56,78.94 255.27,78.50 255.99,78.06 C256.71,77.61 257.43,77.18 258.15,76.75 C258.87,76.32 259.60,75.89 260.33,75.47 C261.06,75.05 261.80,74.64 262.54,74.23 C263.28,73.83 264.02,73.42 264.77,73.03 C265.51,72.63 266.26,72.24 267.02,71.85 C267.77,71.47 268.53,71.09 269.29,70.71 C270.05,70.34 270.81,69.97 271.58,69.61 C272.35,69.25 273.12,68.89 273.90,68.54 C274.67,68.19 275.45,67.85 276.23,67.51 C277.02,67.17 277.80,66.84 278.59,66.51 C279.38,66.18 280.17,65.86 280.97,65.55 C281.77,65.23 282.57,64.92 283.37,64.62 C284.17,64.32 284.98,64.02 285.79,63.73 C286.60,63.44 287.41,63.16 288.23,62.88 C289.04,62.60 289.86,62.33 290.68,62.07 C291.51,61.80 292.34,61.54 293.16,61.29 C293.99,61.03 294.82,60.79 295.65,60.53 C296.47,60.28 297.30,60.03 298.12,59.77 C298.94,59.52 299.75,59.26 300.55,58.98 C301.35,58.71 302.15,58.42 302.93,58.12 C303.70,57.82 304.47,57.51 305.22,57.17 C305.96,56.84 306.70,56.49 307.40,56.11 C308.11,55.72 308.80,55.32 309.46,54.89 C310.13,54.45 310.77,53.99 311.38,53.49 C311.98,52.99 312.57,52.46 313.11,51.89 C313.66,51.32 314.18,50.71 314.66,50.05 C315.14,49.40 315.58,48.70 315.99,47.95 C316.39,47.21 316.75,46.40 317.09,45.58 C317.43,44.75 317.72,43.88 318.02,43.00 C318.31,42.13 318.58,41.22 318.85,40.33 C319.13,39.44 319.39,38.54 319.67,37.66 C319.95,36.79 320.24,35.92 320.53,35.08 C320.82,34.23 321.12,33.40 321.43,32.58 C321.74,31.76 322.05,30.95 322.37,30.15 C322.69,29.35 323.02,28.57 323.35,27.79 C323.68,27.02 324.01,26.25 324.36,25.49 C324.70,24.73 325.04,23.98 325.39,23.24 C325.74,22.49 326.10,21.75 326.46,21.02 C326.81,20.28 327.18,19.55 327.54,18.83 C327.90,18.10 328.27,17.38 328.64,16.65 C329.01,15.93 329.38,15.21 329.75,14.49 C330.12,13.77 330.50,13.05 330.87,12.32 C331.25,11.60 331.62,10.88 332.00,10.15 C332.37,9.42 332.75,8.69 333.12,7.95 C333.50,7.21 333.87,6.47 334.25,5.72 C334.62,4.98 334.99,4.22 335.36,3.46 C335.73,2.69 336.10,1.92 336.47,1.14 C336.83,0.36 337.20,-0.43 337.56,-1.23 C337.92,-2.04 338.28,-2.85 338.63,-3.68 C338.98,-4.50 339.50,-5.78 339.68,-6.20"/>
<path stroke="#20c860" d="M75.91,131.84 C76.27,132.09 77.36,132.82 78.08,133.32 C78.80,133.82 79.51,134.32 80.22,134.83 C80.92,135.34 81.62,135.86 82.32,136.38 C83.01,136.90 83.70,137.43 84.39,137.96 C85.07,138.50 85.75,139.04 86.42,139.58 C87.09,140.13 87.76,140.68 88.42,141.24 C89.08,141.79 89.74,142.36 90.39,142.92 C91.03,143.49 91.68,144.07 92.31,144.65 C92.95,145.23 93.58,145.81 94.21,146.40 C94.84,146.99 95.46,147.59 96.07,148.19 C96.68,148.79 97.29,149.40 97.89,150.01 C98.50,150.62 99.09,151.24 99.68,151.86 C100.27,152.48 100.86,153.11 101.43,153.74 C102.01,154.37 102.59,155.01 103.15,155.65 C103.72,156.29 104.28,156.94 104.83,157.59 C105.39,158.24 105.93,158.90 106.48,159.56 C107.02,160.22 107.55,160.89 108.08,161.56 C108.61,162.23 109.14,162.90 109.65,163.58 C110.17,164.26 110.68,164.95 111.19,165.64 C111.69,166.32 112.19,167.02 112.68,167.72 C113.17,168.41 113.66,169.11 114.14,169.82 C114.62,170.53 115.09,171.24 115.56,171.95 C116.03,172.67 116.49,173.38 116.94,174.11 C117.40,174.83 117.84,175.56 118.28,176.29 C118.73,177.02 119.16,177.75 119.59,178.49 C120.02,179.23 120.44,179.97 120.86,180.72 C121.27,181.46 121.68,182.21 122.09,182.96 C122.49,183.72 122.88,184.47 123.27,185.24 C123.66,186.00 124.05,186.76 124.42,187.53 C124.80,188.30 125.17,189.07 125.53,189.84 C125.90,190.61 126.25,191.39 126.60,192.17 C126.96,192.95 127.30,193.74 127.64,194.53 C127.97,195.31 128.30,196.10 128.63,196.90 C128.95,197.69 129.27,198.49 129.58,199.29 C129.89,200.09 130.19,200.89 130.49,201.70 C130.78,202.50 131.07,203.31 131.35,204.12 C131.64,204.93 131.91,205.75 132.18,206.56 C132.45,207.38 132.71,208.20 132.97,209.02 C133.23,209.84 133.47,210.67 133.72,211.49 C133.96,212.32 134.19,213.15 134.42,213.98 C134.65,214.82 134.87,215.65 135.08,216.49 C135.29,217.32 135.50,218.16 135.70,219.00 C135.90,219.84 136.09,220.69 136.28,221.53 C136.46,222.38 136.64,223.23 136.81,224.08 C136.99,224.93 137.15,225.78 137.31,226.63 C137.46,227.48 137.61,228.34 137.76,229.20 C137.90,230.05 138.04,230.91 138.16,231.77 C138.29,232.63 138.41,233.50 138.53,234.36 C138.64,235.22 138.75,236.09 138.85,236.96 C138.95,237.82 139.04,238.69 139.12,239.56 C139.21,240.43 139.32,241.74 139.36,242.18"/>
<path stroke="#20c860" d="M143.53,242.02 C143.52,241.55 143.44,240.07 143.49,239.15 C143.53,238.24 143.65,237.36 143.82,236.52 C143.98,235.67 144.21,234.87 144.48,234.08 C144.74,233.30 145.06,232.55 145.41,231.81 C145.76,231.08 146.15,230.38 146.57,229.68 C146.99,228.99 147.44,228.32 147.91,227.65 C148.37,226.98 148.87,226.34 149.37,225.69 C149.86,225.04 150.38,224.40 150.90,223.76 C151.41,223.12 151.94,222.49 152.46,221.84 C152.97,221.19 153.49,220.55 153.99,219.89 C154.49,219.23 154.97,218.56 155.45,217.88 C155.92,217.20 156.38,216.51 156.83,215.81 C157.28,215.11 157.72,214.41 158.15,213.69 C158.58,212.98 158.99,212.26 159.40,211.53 C159.81,210.81 160.22,210.07 160.61,209.34 C161.01,208.60 161.39,207.86 161.78,207.12 C162.16,206.38 162.53,205.63 162.91,204.89 C163.28,204.14 163.65,203.39 164.01,202.64 C164.38,201.90 164.74,201.14 165.09,200.39 C165.45,199.64 165.80,198.89 166.15,198.13 C166.50,197.38 166.85,196.62 167.19,195.86 C167.54,195.10 167.88,194.34 168.22,193.58 C168.56,192.82 168.90,192.06 169.24,191.30 C169.57,190.54 169.91,189.78 170.24,189.01 C170.58,188.25 170.91,187.48 171.24,186.72 C171.58,185.95 171.91,185.19 172.24,184.42 C172.57,183.65 172.91,182.89 173.24,182.12 C173.57,181.35 173.91,180.58 174.24,179.81 C174.58,179.05 174.91,178.28 175.25,177.51 C175.59,176.74 175.92,175.97 176.27,175.20 C176.61,174.43 176.95,173.66 177.29,172.89 C177.64,172.12 177.98,171.35 178.33,170.58 C178.68,169.81 179.03,169.04 179.38,168.27 C179.74,167.50 180.09,166.74 180.45,165.97 C180.81,165.20 181.17,164.43 181.53,163.67 C181.89,162.90 182.25,162.13 182.62,161.37 C182.99,160.60 183.36,159.84 183.73,159.08 C184.10,158.31 184.48,157.55 184.86,156.79 C185.23,156.03 185.61,155.27 186.00,154.52 C186.38,153.76 186.77,153.00 187.16,152.25 C187.55,151.49 187.94,150.74 188.34,149.99 C188.73,149.24 189.13,148.49 189.53,147.74 C189.94,146.99 190.34,146.25 190.75,145.50 C191.16,144.76 191.57,144.02 191.99,143.28 C192.40,142.54 192.82,141.80 193.25,141.07 C193.67,140.34 194.10,139.60 194.53,138.88 C194.96,138.15 195.39,137.42 195.83,136.70 C196.27,135.97 196.71,135.25 197.16,134.53 C197.60,133.82 198.05,133.10 198.51,132.39 C198.96,131.68 199.42,130.97 199.88,130.27 C200.35,129.56 200.81,128.86 201.29,128.16 C201.76,127.46 202.23,126.77 202.71,126.08 C203.19,125.39 203.68,124.70 204.17,124.02 C204.66,123.33 205.15,122.65 205.65,121.98 C206.15,121.30 206.65,120.63 207.16,119.96 C207.67,119.30 208.18,118.63 208.70,117.98 C209.22,117.32 209.74,116.66 210.27,116.01 C210.80,115.36 211.33,114.72 211.87,114.08 C212.41,113.44 212.95,112.80 213.50,112.17 C214.05,111.54 214.60,110.91 215.16,110.29 C215.72,109.67 216.28,109.05 216.85,108.44 C217.42,107.83 217.99,107.22 218.57,106.61 C219.14,106.01 219.73,105.41 220.31,104.82 C220.90,104.22 221.49,103.63 222.09,103.05 C222.68,102.46 223.28,101.88 223.89,101.30 C224.49,100.73 225.10,100.16 225.71,99.59 C226.33,99.02 226.95,98.46 227.57,97.90 C228.19,97.35 228.82,96.79 229.45,96.25 C230.08,95.70 230.71,95.15 231.35,94.61 C231.99,94.08 232.64,93.54 233.28,93.01 C233.93,92.48 234.58,91.96 235.24,91.44 C235.89,90.92 236.55,90.40 237.22,89.89 C237.88,89.38 238.55,88.88 239.22,88.37 C239.89,87.87 240.56,87.38 241.24,86.88 C241.92,86.39 242.60,85.91 243.29,85.42 C243.97,84.94 244.66,84.46 245.36,83.99 C246.05,83.52 246.75,83.05 247.45,82.59 C248.15,82.12 248.85,81.66 249.56,81.21 C250.27,80.76 250.98,80.31 251.69,79.86 C252.41,79.42 253.12,78.98 253.85,78.54 C254.57,78.11 255.29,77.68 256.02,77.25 C256.75,76.83 257.48,76.41 258.21,75.99 C258.94,75.58 259.68,75.17 260.42,74.76 C261.16,74.35 261.90,73.95 262.65,73.56 C263.39,73.16 264.14,72.77 264.89,72.38 C265.64,71.99 266.40,71.61 267.16,71.24 C267.91,70.86 268.67,70.49 269.44,70.12 C270.20,69.75 270.97,69.39 271.73,69.03 C272.50,68.67 273.27,68.32 274.05,67.97 C274.82,67.62 275.59,67.28 276.37,66.94 C277.15,66.60 277.93,66.27 278.72,65.94 C279.50,65.61 280.28,65.29 281.07,64.97 C281.86,64.65 282.65,64.34 283.44,64.03 C284.24,63.72 285.03,63.42 285.83,63.12 C286.62,62.82 287.42,62.52 288.22,62.24 C289.03,61.95 289.83,61.66 290.63,61.38 C291.44,61.10 292.25,60.83 293.06,60.56 C293.86,60.29 294.67,60.02 295.48,59.75 C296.29,59.48 297.09,59.22 297.89,58.94 C298.68,58.66 299.48,58.39 300.26,58.09 C301.04,57.80 301.82,57.51 302.58,57.19 C303.34,56.88 304.09,56.55 304.82,56.21 C305.56,55.86 306.28,55.50 306.97,55.11 C307.67,54.72 308.35,54.32 309.01,53.88 C309.67,53.45 310.31,52.99 310.92,52.49 C311.53,52.00 312.12,51.48 312.67,50.92 C313.23,50.36 313.76,49.77 314.26,49.14 C314.76,48.51 315.22,47.83 315.65,47.12 C316.09,46.41 316.48,45.65 316.86,44.87 C317.24,44.10 317.58,43.28 317.93,42.46 C318.27,41.64 318.59,40.79 318.91,39.96 C319.23,39.12 319.54,38.28 319.86,37.45 C320.18,36.62 320.50,35.79 320.83,34.98 C321.15,34.16 321.48,33.35 321.81,32.55 C322.13,31.75 322.46,30.95 322.80,30.16 C323.13,29.37 323.46,28.58 323.80,27.80 C324.13,27.02 324.47,26.25 324.81,25.48 C325.15,24.71 325.50,23.94 325.84,23.18 C326.19,22.42 326.53,21.66 326.88,20.90 C327.23,20.15 327.59,19.39 327.94,18.64 C328.29,17.89 328.65,17.15 329.01,16.40 C329.37,15.66 329.73,14.91 330.09,14.17 C330.46,13.43 330.82,12.69 331.19,11.95 C331.56,11.21 331.93,10.47 332.30,9.73 C332.68,8.99 333.05,8.25 333.43,7.51 C333.81,6.78 334.19,6.04 334.57,5.29 C334.95,4.55 335.34,3.81 335.73,3.07 C336.12,2.32 336.51,1.58 336.90,0.83 C337.29,0.08 337.69,-0.67 338.09,-1.42 C338.49,-2.18 338.89,-2.93 339.29,-3.69 C339.70,-4.45 340.31,-5.60 340.51,-5.98"/>
<path stroke="#40d820" d="M75.94,130.10 C76.30,130.35 77.37,131.10 78.07,131.60 C78.77,132.10 79.47,132.61 80.16,133.13 C80.86,133.64 81.55,134.16 82.23,134.69 C82.91,135.22 83.59,135.75 84.26,136.28 C84.94,136.82 85.60,137.36 86.27,137.91 C86.93,138.46 87.59,139.01 88.24,139.57 C88.89,140.13 89.54,140.69 90.18,141.26 C90.82,141.83 91.46,142.40 92.09,142.98 C92.72,143.56 93.34,144.14 93.96,144.73 C94.58,145.32 95.20,145.92 95.81,146.51 C96.41,147.11 97.02,147.72 97.62,148.33 C98.21,148.93 98.81,149.55 99.39,150.17 C99.98,150.78 100.56,151.41 101.14,152.03 C101.71,152.66 102.28,153.30 102.84,153.93 C103.41,154.57 103.97,155.21 104.52,155.86 C105.07,156.50 105.62,157.15 106.16,157.81 C106.70,158.47 107.23,159.13 107.76,159.79 C108.29,160.45 108.81,161.12 109.33,161.80 C109.85,162.47 110.36,163.15 110.86,163.83 C111.37,164.51 111.87,165.20 112.36,165.89 C112.85,166.58 113.34,167.27 113.82,167.97 C114.30,168.67 114.78,169.37 115.25,170.08 C115.71,170.78 116.18,171.49 116.63,172.21 C117.09,172.92 117.54,173.64 117.98,174.36 C118.42,175.09 118.86,175.81 119.29,176.54 C119.72,177.27 120.15,178.01 120.57,178.75 C120.98,179.48 121.40,180.22 121.80,180.97 C122.21,181.71 122.61,182.46 123.00,183.21 C123.39,183.97 123.78,184.72 124.16,185.48 C124.54,186.24 124.91,187.00 125.28,187.77 C125.64,188.53 126.00,189.30 126.36,190.08 C126.71,190.85 127.06,191.62 127.40,192.40 C127.74,193.18 128.07,193.96 128.40,194.75 C128.73,195.53 129.05,196.32 129.37,197.11 C129.68,197.90 129.99,198.70 130.29,199.49 C130.59,200.29 130.89,201.09 131.17,201.89 C131.46,202.70 131.74,203.50 132.02,204.31 C132.29,205.12 132.56,205.93 132.82,206.74 C133.08,207.55 133.34,208.37 133.58,209.19 C133.83,210.01 134.07,210.83 134.31,211.65 C134.54,212.48 134.77,213.30 134.99,214.13 C135.21,214.96 135.42,215.79 135.63,216.62 C135.83,217.45 136.03,218.29 136.23,219.13 C136.42,219.96 136.60,220.80 136.78,221.64 C136.96,222.49 137.13,223.33 137.30,224.17 C137.46,225.02 137.62,225.87 137.77,226.72 C137.92,227.57 138.07,228.42 138.20,229.27 C138.34,230.12 138.47,230.98 138.59,231.84 C138.72,232.69 138.83,233.55 138.94,234.41 C139.05,235.27 139.15,236.13 139.24,237.00 C139.34,237.86 139.42,238.72 139.50,239.59 C139.58,240.46 139.69,241.76 139.72,242.19"/>
<path stroke="#40d820" d="M143.69,241.81 C143.80,241.41 144.11,240.22 144.34,239.43 C144.56,238.64 144.81,237.86 145.06,237.08 C145.31,236.30 145.58,235.52 145.86,234.74 C146.14,233.97 146.43,233.20 146.72,232.43 C147.02,231.66 147.33,230.90 147.65,230.14 C147.97,229.38 148.29,228.62 148.63,227.86 C148.96,227.10 149.30,226.35 149.65,225.59 C150.00,224.84 150.36,224.09 150.72,223.34 C151.07,222.59 151.44,221.84 151.81,221.10 C152.18,220.35 152.55,219.60 152.93,218.86 C153.31,218.11 153.69,217.37 154.07,216.62 C154.45,215.88 154.83,215.14 155.22,214.39 C155.60,213.65 155.98,212.90 156.37,212.16 C156.75,211.42 157.13,210.67 157.52,209.93 C157.90,209.18 158.28,208.44 158.65,207.69 C159.03,206.94 159.41,206.20 159.78,205.45 C160.15,204.70 160.51,203.95 160.88,203.20 C161.24,202.44 161.60,201.69 161.96,200.94 C162.31,200.18 162.67,199.43 163.02,198.67 C163.37,197.92 163.72,197.16 164.07,196.40 C164.42,195.64 164.76,194.88 165.11,194.12 C165.45,193.36 165.79,192.60 166.14,191.84 C166.48,191.08 166.82,190.32 167.16,189.56 C167.50,188.79 167.84,188.03 168.18,187.27 C168.52,186.51 168.86,185.74 169.20,184.98 C169.54,184.21 169.88,183.45 170.22,182.69 C170.56,181.92 170.91,181.16 171.25,180.39 C171.59,179.63 171.94,178.86 172.28,178.10 C172.63,177.33 172.98,176.57 173.33,175.80 C173.68,175.04 174.03,174.27 174.38,173.51 C174.74,172.75 175.10,171.98 175.45,171.22 C175.81,170.45 176.18,169.69 176.54,168.93 C176.90,168.17 177.27,167.40 177.64,166.64 C178.01,165.88 178.38,165.12 178.75,164.36 C179.12,163.60 179.50,162.84 179.88,162.09 C180.26,161.33 180.64,160.57 181.02,159.82 C181.41,159.06 181.80,158.31 182.19,157.56 C182.58,156.80 182.97,156.05 183.36,155.30 C183.76,154.55 184.16,153.80 184.56,153.05 C184.96,152.31 185.37,151.56 185.77,150.82 C186.18,150.08 186.59,149.33 187.01,148.59 C187.42,147.85 187.84,147.12 188.26,146.38 C188.68,145.64 189.10,144.91 189.53,144.18 C189.96,143.45 190.39,142.72 190.82,141.99 C191.26,141.26 191.69,140.54 192.14,139.81 C192.58,139.09 193.02,138.37 193.47,137.65 C193.92,136.94 194.37,136.22 194.83,135.51 C195.28,134.80 195.74,134.09 196.21,133.38 C196.67,132.68 197.14,131.97 197.61,131.27 C198.08,130.57 198.55,129.88 199.03,129.18 C199.51,128.49 199.99,127.80 200.48,127.11 C200.97,126.42 201.46,125.74 201.96,125.06 C202.45,124.38 202.95,123.70 203.46,123.03 C203.96,122.36 204.47,121.69 204.98,121.02 C205.49,120.36 206.01,119.69 206.53,119.04 C207.06,118.38 207.58,117.72 208.11,117.07 C208.64,116.42 209.18,115.78 209.72,115.14 C210.26,114.50 210.80,113.86 211.35,113.22 C211.90,112.59 212.46,111.96 213.01,111.34 C213.57,110.71 214.13,110.09 214.70,109.48 C215.27,108.86 215.84,108.25 216.42,107.64 C216.99,107.03 217.57,106.43 218.16,105.83 C218.74,105.23 219.33,104.64 219.92,104.05 C220.51,103.46 221.11,102.87 221.71,102.29 C222.31,101.71 222.92,101.13 223.53,100.56 C224.14,99.98 224.75,99.42 225.37,98.85 C225.99,98.29 226.61,97.73 227.24,97.17 C227.86,96.62 228.49,96.07 229.13,95.52 C229.76,94.97 230.40,94.43 231.04,93.90 C231.68,93.36 232.33,92.83 232.98,92.30 C233.62,91.77 234.28,91.24 234.93,90.73 C235.59,90.21 236.25,89.69 236.92,89.18 C237.58,88.67 238.25,88.17 238.92,87.67 C239.59,87.16 240.27,86.67 240.95,86.18 C241.62,85.68 242.31,85.20 242.99,84.72 C243.68,84.23 244.37,83.76 245.06,83.28 C245.75,82.81 246.45,82.34 247.15,81.88 C247.85,81.41 248.55,80.95 249.26,80.50 C249.97,80.05 250.68,79.60 251.39,79.15 C252.10,78.71 252.82,78.27 253.54,77.83 C254.26,77.40 254.98,76.97 255.71,76.54 C256.43,76.12 257.16,75.69 257.89,75.28 C258.62,74.86 259.36,74.45 260.10,74.05 C260.84,73.64 261.58,73.24 262.32,72.84 C263.07,72.44 263.81,72.05 264.56,71.67 C265.31,71.28 266.07,70.90 266.82,70.52 C267.58,70.14 268.34,69.77 269.10,69.40 C269.86,69.04 270.62,68.68 271.39,68.32 C272.16,67.96 272.93,67.61 273.70,67.26 C274.47,66.92 275.25,66.57 276.03,66.24 C276.80,65.90 277.58,65.57 278.37,65.24 C279.15,64.91 279.93,64.59 280.72,64.28 C281.51,63.96 282.30,63.65 283.09,63.34 C283.89,63.03 284.68,62.73 285.48,62.44 C286.28,62.14 287.08,61.85 287.88,61.56 C288.68,61.28 289.49,61.00 290.29,60.72 C291.10,60.45 291.91,60.18 292.72,59.91 C293.53,59.64 294.34,59.38 295.15,59.12 C295.96,58.86 296.77,58.60 297.57,58.33 C298.37,58.06 299.17,57.79 299.96,57.50 C300.75,57.22 301.53,56.93 302.29,56.62 C303.06,56.32 303.82,56.00 304.56,55.66 C305.29,55.32 306.02,54.97 306.73,54.59 C307.43,54.21 308.12,53.81 308.78,53.38 C309.45,52.95 310.09,52.50 310.71,52.02 C311.32,51.53 311.92,51.01 312.48,50.46 C313.04,49.91 313.58,49.32 314.08,48.69 C314.59,48.06 315.05,47.39 315.49,46.68 C315.93,45.97 316.33,45.22 316.72,44.44 C317.11,43.67 317.47,42.86 317.82,42.05 C318.18,41.24 318.51,40.41 318.85,39.59 C319.18,38.76 319.51,37.93 319.85,37.12 C320.19,36.30 320.52,35.49 320.86,34.68 C321.20,33.88 321.54,33.08 321.89,32.28 C322.23,31.49 322.57,30.70 322.92,29.92 C323.27,29.14 323.62,28.36 323.97,27.58 C324.32,26.81 324.67,26.04 325.02,25.27 C325.38,24.51 325.73,23.75 326.09,22.99 C326.45,22.23 326.81,21.48 327.17,20.72 C327.54,19.97 327.90,19.22 328.27,18.48 C328.63,17.73 329.00,16.98 329.37,16.24 C329.74,15.50 330.12,14.76 330.49,14.02 C330.87,13.28 331.25,12.54 331.63,11.81 C332.00,11.07 332.39,10.33 332.77,9.60 C333.16,8.86 333.54,8.13 333.93,7.39 C334.32,6.66 334.71,5.92 335.11,5.19 C335.50,4.45 335.90,3.71 336.30,2.98 C336.70,2.24 337.10,1.50 337.50,0.76 C337.90,0.02 338.31,-0.72 338.72,-1.47 C339.13,-2.21 339.54,-2.96 339.96,-3.70 C340.37,-4.45 341.00,-5.58 341.21,-5.96"/>
<path stroke="#b0e020" d="M75.98,128.69 C76.33,128.94 77.41,129.70 78.11,130.21 C78.82,130.72 79.52,131.24 80.22,131.76 C80.92,132.28 81.61,132.81 82.30,133.34 C82.99,133.87 83.68,134.41 84.35,134.95 C85.03,135.50 85.71,136.04 86.38,136.60 C87.05,137.15 87.71,137.71 88.37,138.27 C89.03,138.84 89.68,139.40 90.33,139.98 C90.98,140.55 91.63,141.13 92.27,141.71 C92.90,142.30 93.54,142.89 94.17,143.48 C94.79,144.07 95.42,144.67 96.03,145.28 C96.65,145.88 97.26,146.49 97.87,147.10 C98.48,147.72 99.08,148.33 99.67,148.96 C100.27,149.58 100.86,150.21 101.44,150.84 C102.02,151.47 102.60,152.11 103.17,152.76 C103.74,153.40 104.31,154.04 104.87,154.70 C105.43,155.35 105.98,156.01 106.53,156.67 C107.08,157.33 107.62,157.99 108.15,158.67 C108.69,159.34 109.22,160.01 109.74,160.69 C110.26,161.37 110.78,162.06 111.29,162.74 C111.80,163.43 112.31,164.13 112.80,164.83 C113.30,165.52 113.79,166.23 114.27,166.93 C114.76,167.64 115.24,168.35 115.71,169.07 C116.18,169.78 116.64,170.51 117.10,171.23 C117.55,171.95 118.00,172.68 118.45,173.42 C118.89,174.15 119.33,174.89 119.76,175.63 C120.19,176.37 120.61,177.12 121.03,177.87 C121.44,178.62 121.85,179.37 122.26,180.13 C122.66,180.88 123.06,181.65 123.45,182.41 C123.84,183.18 124.22,183.95 124.60,184.72 C124.97,185.49 125.34,186.27 125.70,187.04 C126.07,187.82 126.42,188.61 126.77,189.39 C127.12,190.18 127.47,190.97 127.80,191.76 C128.14,192.55 128.47,193.35 128.79,194.15 C129.11,194.95 129.43,195.75 129.74,196.55 C130.05,197.36 130.35,198.17 130.65,198.98 C130.95,199.79 131.24,200.60 131.52,201.42 C131.81,202.23 132.08,203.05 132.35,203.88 C132.62,204.70 132.89,205.52 133.14,206.35 C133.40,207.17 133.65,208.00 133.90,208.83 C134.14,209.66 134.38,210.50 134.61,211.33 C134.84,212.17 135.07,213.01 135.29,213.85 C135.50,214.69 135.72,215.53 135.92,216.37 C136.13,217.22 136.33,218.06 136.52,218.91 C136.71,219.76 136.90,220.61 137.08,221.46 C137.26,222.31 137.43,223.16 137.60,224.02 C137.77,224.87 137.93,225.73 138.08,226.59 C138.23,227.44 138.38,228.30 138.52,229.16 C138.66,230.02 138.80,230.89 138.93,231.75 C139.06,232.61 139.18,233.48 139.30,234.34 C139.41,235.21 139.52,236.07 139.62,236.94 C139.73,237.80 139.82,238.67 139.91,239.54 C140.01,240.41 140.13,241.72 140.17,242.15"/>
<path stroke="#b0e020" d="M144.32,241.92 C144.39,241.50 144.55,240.20 144.71,239.37 C144.87,238.53 145.08,237.71 145.30,236.90 C145.53,236.10 145.79,235.31 146.06,234.52 C146.34,233.74 146.65,232.97 146.96,232.20 C147.27,231.44 147.61,230.68 147.95,229.93 C148.29,229.17 148.65,228.43 149.01,227.68 C149.36,226.93 149.73,226.19 150.09,225.44 C150.45,224.69 150.81,223.95 151.16,223.20 C151.50,222.45 151.85,221.69 152.18,220.93 C152.51,220.17 152.82,219.40 153.13,218.63 C153.43,217.85 153.72,217.07 154.01,216.29 C154.29,215.51 154.57,214.72 154.84,213.93 C155.12,213.14 155.38,212.35 155.65,211.55 C155.92,210.76 156.18,209.97 156.45,209.18 C156.72,208.38 156.98,207.59 157.26,206.80 C157.53,206.01 157.81,205.22 158.09,204.44 C158.38,203.65 158.67,202.87 158.96,202.09 C159.26,201.31 159.56,200.54 159.87,199.76 C160.17,198.98 160.48,198.21 160.80,197.44 C161.11,196.67 161.43,195.90 161.76,195.13 C162.08,194.37 162.41,193.60 162.74,192.84 C163.08,192.07 163.41,191.31 163.75,190.55 C164.09,189.79 164.44,189.03 164.79,188.27 C165.13,187.51 165.48,186.75 165.84,185.99 C166.19,185.24 166.55,184.48 166.91,183.72 C167.27,182.97 167.63,182.21 168.00,181.46 C168.36,180.70 168.73,179.95 169.10,179.20 C169.47,178.44 169.84,177.69 170.21,176.94 C170.58,176.18 170.96,175.43 171.33,174.67 C171.71,173.92 172.09,173.17 172.47,172.41 C172.85,171.66 173.23,170.91 173.61,170.15 C174.00,169.40 174.38,168.65 174.77,167.90 C175.16,167.14 175.54,166.39 175.94,165.64 C176.33,164.89 176.72,164.14 177.12,163.39 C177.51,162.64 177.91,161.89 178.31,161.14 C178.71,160.39 179.11,159.65 179.52,158.90 C179.92,158.15 180.33,157.41 180.74,156.66 C181.15,155.92 181.56,155.18 181.97,154.43 C182.39,153.69 182.80,152.95 183.22,152.21 C183.64,151.47 184.07,150.74 184.49,150.00 C184.92,149.27 185.34,148.53 185.78,147.80 C186.21,147.07 186.64,146.34 187.08,145.61 C187.51,144.88 187.95,144.15 188.40,143.43 C188.84,142.70 189.28,141.98 189.73,141.26 C190.18,140.54 190.63,139.82 191.09,139.11 C191.54,138.39 192.00,137.68 192.46,136.96 C192.93,136.25 193.39,135.55 193.86,134.84 C194.33,134.13 194.80,133.43 195.28,132.73 C195.75,132.03 196.23,131.33 196.71,130.64 C197.20,129.94 197.68,129.25 198.17,128.56 C198.66,127.87 199.16,127.19 199.65,126.50 C200.15,125.82 200.65,125.14 201.16,124.47 C201.66,123.79 202.17,123.12 202.69,122.45 C203.20,121.78 203.72,121.11 204.24,120.45 C204.76,119.79 205.29,119.13 205.82,118.48 C206.35,117.82 206.88,117.17 207.42,116.53 C207.96,115.88 208.50,115.24 209.05,114.60 C209.60,113.96 210.15,113.32 210.70,112.69 C211.26,112.06 211.82,111.44 212.38,110.81 C212.95,110.19 213.52,109.57 214.09,108.96 C214.66,108.35 215.24,107.73 215.82,107.13 C216.40,106.52 216.98,105.92 217.57,105.32 C218.16,104.73 218.76,104.13 219.35,103.54 C219.95,102.95 220.55,102.37 221.16,101.79 C221.76,101.21 222.37,100.63 222.98,100.06 C223.60,99.48 224.21,98.92 224.84,98.35 C225.46,97.79 226.08,97.23 226.71,96.67 C227.34,96.12 227.97,95.57 228.61,95.02 C229.24,94.47 229.88,93.93 230.53,93.39 C231.17,92.86 231.82,92.32 232.47,91.79 C233.12,91.27 233.77,90.74 234.43,90.22 C235.09,89.70 235.75,89.18 236.42,88.67 C237.08,88.16 237.75,87.66 238.42,87.15 C239.10,86.65 239.77,86.15 240.45,85.66 C241.13,85.17 241.81,84.68 242.50,84.20 C243.19,83.71 243.87,83.23 244.57,82.76 C245.26,82.28 245.96,81.81 246.66,81.35 C247.36,80.88 248.06,80.42 248.77,79.96 C249.47,79.51 250.18,79.06 250.89,78.61 C251.61,78.16 252.32,77.72 253.04,77.28 C253.76,76.85 254.48,76.41 255.21,75.99 C255.93,75.56 256.66,75.14 257.39,74.72 C258.12,74.30 258.86,73.89 259.60,73.48 C260.33,73.07 261.07,72.66 261.82,72.27 C262.56,71.87 263.31,71.47 264.06,71.08 C264.80,70.69 265.56,70.31 266.31,69.93 C267.07,69.55 267.82,69.18 268.58,68.81 C269.34,68.44 270.11,68.07 270.87,67.71 C271.64,67.35 272.41,67.00 273.18,66.65 C273.95,66.30 274.73,65.96 275.50,65.62 C276.28,65.28 277.06,64.94 277.84,64.61 C278.62,64.29 279.41,63.96 280.20,63.64 C280.98,63.32 281.77,63.01 282.56,62.70 C283.36,62.39 284.15,62.09 284.95,61.79 C285.75,61.49 286.54,61.20 287.35,60.91 C288.15,60.62 288.95,60.34 289.76,60.06 C290.57,59.78 291.38,59.51 292.19,59.24 C293.00,58.98 293.81,58.72 294.62,58.45 C295.43,58.19 296.24,57.93 297.05,57.66 C297.85,57.39 298.66,57.13 299.45,56.85 C300.24,56.57 301.03,56.28 301.80,55.98 C302.57,55.68 303.34,55.37 304.08,55.04 C304.83,54.71 305.56,54.36 306.28,53.99 C306.99,53.62 307.69,53.24 308.37,52.82 C309.04,52.40 309.70,51.96 310.33,51.49 C310.96,51.01 311.57,50.51 312.15,49.97 C312.73,49.44 313.28,48.87 313.80,48.25 C314.32,47.64 314.81,46.99 315.27,46.30 C315.73,45.61 316.15,44.88 316.56,44.13 C316.98,43.39 317.36,42.61 317.74,41.82 C318.12,41.04 318.48,40.23 318.84,39.43 C319.20,38.63 319.56,37.82 319.92,37.02 C320.28,36.22 320.63,35.43 320.99,34.63 C321.35,33.84 321.71,33.05 322.06,32.26 C322.42,31.47 322.78,30.69 323.14,29.91 C323.49,29.12 323.85,28.34 324.21,27.56 C324.57,26.79 324.93,26.01 325.29,25.24 C325.65,24.47 326.01,23.70 326.38,22.93 C326.74,22.16 327.11,21.40 327.47,20.63 C327.84,19.87 328.21,19.11 328.58,18.35 C328.95,17.60 329.32,16.84 329.70,16.09 C330.07,15.34 330.45,14.59 330.83,13.84 C331.21,13.09 331.59,12.34 331.98,11.60 C332.36,10.85 332.75,10.11 333.14,9.37 C333.53,8.63 333.93,7.90 334.33,7.16 C334.73,6.43 335.13,5.70 335.53,4.96 C335.94,4.23 336.35,3.51 336.77,2.78 C337.18,2.05 337.60,1.33 338.02,0.61 C338.45,-0.12 338.87,-0.84 339.31,-1.56 C339.74,-2.27 340.18,-2.99 340.62,-3.71 C341.06,-4.42 341.74,-5.49 341.96,-5.84"/>
<path stroke="#f0d020" d="M75.03,125.87 C75.42,126.07 76.58,126.66 77.35,127.06 C78.12,127.47 78.89,127.88 79.65,128.30 C80.41,128.72 81.17,129.15 81.92,129.59 C82.67,130.02 83.42,130.47 84.17,130.92 C84.91,131.37 85.65,131.82 86.38,132.29 C87.11,132.75 87.84,133.22 88.56,133.70 C89.29,134.18 90.01,134.67 90.72,135.16 C91.43,135.65 92.14,136.15 92.85,136.65 C93.55,137.16 94.25,137.67 94.94,138.19 C95.63,138.71 96.32,139.24 97.00,139.77 C97.68,140.30 98.36,140.84 99.03,141.39 C99.70,141.93 100.37,142.48 101.03,143.04 C101.69,143.60 102.34,144.16 102.99,144.73 C103.64,145.30 104.28,145.88 104.92,146.46 C105.55,147.04 106.18,147.63 106.81,148.23 C107.43,148.82 108.05,149.42 108.67,150.03 C109.28,150.64 109.89,151.25 110.49,151.87 C111.09,152.48 111.68,153.11 112.27,153.74 C112.86,154.36 113.44,155.00 114.02,155.64 C114.59,156.28 115.16,156.93 115.72,157.58 C116.28,158.23 116.84,158.88 117.39,159.54 C117.94,160.21 118.48,160.87 119.02,161.54 C119.55,162.22 120.08,162.89 120.60,163.58 C121.13,164.26 121.64,164.95 122.15,165.64 C122.66,166.33 123.16,167.03 123.65,167.73 C124.15,168.43 124.63,169.14 125.11,169.85 C125.59,170.56 126.07,171.27 126.53,171.99 C127.00,172.71 127.46,173.44 127.91,174.17 C128.36,174.90 128.80,175.63 129.24,176.37 C129.67,177.11 130.10,177.85 130.52,178.60 C130.94,179.34 131.35,180.09 131.76,180.85 C132.16,181.60 132.56,182.36 132.95,183.12 C133.34,183.89 133.72,184.65 134.09,185.42 C134.47,186.20 134.83,186.97 135.19,187.75 C135.54,188.53 135.89,189.31 136.23,190.09 C136.58,190.88 136.91,191.67 137.23,192.46 C137.56,193.25 137.87,194.05 138.18,194.85 C138.49,195.65 138.79,196.45 139.08,197.26 C139.37,198.07 139.65,198.88 139.92,199.69 C140.20,200.50 140.46,201.32 140.72,202.14 C140.97,202.96 141.22,203.78 141.46,204.60 C141.70,205.43 141.93,206.26 142.15,207.09 C142.37,207.92 142.58,208.75 142.78,209.59 C142.98,210.42 143.17,211.26 143.36,212.11 C143.54,212.95 143.72,213.79 143.88,214.64 C144.05,215.48 144.20,216.33 144.35,217.19 C144.49,218.04 144.63,218.89 144.76,219.75 C144.88,220.60 145.00,221.46 145.11,222.32 C145.22,223.18 145.32,224.05 145.41,224.91 C145.49,225.78 145.57,226.64 145.64,227.51 C145.71,228.38 145.77,229.25 145.82,230.12 C145.87,230.99 145.90,231.87 145.93,232.74 C145.96,233.62 145.98,234.50 145.99,235.38 C146.00,236.26 146.00,237.14 145.98,238.02 C145.97,238.90 145.95,239.78 145.91,240.67 C145.88,241.55 145.81,242.88 145.78,243.33"/>
<path stroke="#f0d020" d="M144.78,241.69 C144.89,241.30 145.23,240.12 145.45,239.33 C145.68,238.55 145.91,237.76 146.14,236.97 C146.37,236.18 146.61,235.40 146.84,234.61 C147.08,233.82 147.32,233.03 147.56,232.24 C147.80,231.45 148.04,230.66 148.29,229.87 C148.53,229.08 148.78,228.29 149.03,227.50 C149.28,226.71 149.53,225.92 149.79,225.13 C150.04,224.34 150.30,223.55 150.56,222.76 C150.81,221.97 151.08,221.18 151.34,220.39 C151.60,219.60 151.87,218.81 152.14,218.02 C152.41,217.23 152.68,216.43 152.95,215.64 C153.22,214.85 153.50,214.06 153.78,213.27 C154.06,212.49 154.34,211.70 154.62,210.91 C154.90,210.12 155.19,209.33 155.48,208.54 C155.76,207.75 156.06,206.96 156.35,206.18 C156.64,205.39 156.94,204.60 157.24,203.81 C157.53,203.03 157.83,202.24 158.14,201.45 C158.44,200.67 158.75,199.88 159.06,199.10 C159.37,198.31 159.68,197.53 159.99,196.75 C160.30,195.96 160.62,195.18 160.94,194.40 C161.26,193.62 161.58,192.84 161.91,192.06 C162.23,191.28 162.56,190.50 162.89,189.72 C163.22,188.94 163.55,188.16 163.89,187.39 C164.22,186.61 164.56,185.84 164.90,185.06 C165.24,184.29 165.59,183.51 165.93,182.74 C166.28,181.97 166.63,181.20 166.98,180.43 C167.34,179.66 167.69,178.89 168.05,178.12 C168.41,177.35 168.77,176.59 169.13,175.82 C169.50,175.06 169.86,174.29 170.23,173.53 C170.60,172.77 170.97,172.01 171.35,171.25 C171.73,170.49 172.10,169.73 172.49,168.97 C172.87,168.22 173.25,167.46 173.64,166.71 C174.03,165.95 174.42,165.20 174.81,164.45 C175.20,163.70 175.60,162.95 176.00,162.20 C176.40,161.46 176.80,160.71 177.21,159.97 C177.61,159.22 178.02,158.48 178.43,157.74 C178.85,157.00 179.26,156.26 179.68,155.53 C180.10,154.79 180.52,154.06 180.94,153.32 C181.37,152.59 181.79,151.86 182.23,151.13 C182.66,150.40 183.09,149.68 183.53,148.95 C183.96,148.23 184.41,147.51 184.85,146.79 C185.29,146.07 185.74,145.35 186.19,144.63 C186.64,143.92 187.09,143.20 187.55,142.49 C188.01,141.78 188.47,141.07 188.93,140.37 C189.39,139.66 189.86,138.95 190.33,138.25 C190.80,137.55 191.27,136.85 191.75,136.16 C192.23,135.46 192.71,134.76 193.19,134.07 C193.68,133.38 194.16,132.69 194.65,132.00 C195.14,131.32 195.64,130.63 196.13,129.95 C196.63,129.27 197.13,128.59 197.64,127.92 C198.14,127.24 198.65,126.57 199.16,125.90 C199.67,125.23 200.19,124.56 200.70,123.90 C201.22,123.23 201.75,122.57 202.27,121.91 C202.80,121.25 203.33,120.60 203.86,119.95 C204.39,119.29 204.93,118.64 205.47,118.00 C206.01,117.35 206.55,116.71 207.10,116.07 C207.64,115.43 208.19,114.79 208.75,114.16 C209.30,113.52 209.86,112.89 210.42,112.26 C210.99,111.64 211.55,111.01 212.12,110.39 C212.69,109.77 213.26,109.15 213.84,108.54 C214.41,107.93 214.99,107.32 215.58,106.71 C216.16,106.10 216.75,105.50 217.34,104.90 C217.93,104.30 218.52,103.70 219.12,103.11 C219.72,102.52 220.32,101.93 220.92,101.35 C221.53,100.76 222.13,100.18 222.75,99.60 C223.36,99.03 223.97,98.45 224.59,97.88 C225.21,97.32 225.83,96.75 226.46,96.19 C227.08,95.63 227.71,95.07 228.35,94.52 C228.98,93.96 229.61,93.41 230.25,92.87 C230.89,92.32 231.54,91.78 232.18,91.25 C232.83,90.71 233.48,90.18 234.13,89.65 C234.79,89.12 235.44,88.60 236.10,88.08 C236.76,87.56 237.43,87.04 238.09,86.53 C238.76,86.02 239.43,85.52 240.11,85.02 C240.78,84.51 241.46,84.02 242.14,83.52 C242.82,83.03 243.50,82.54 244.19,82.06 C244.88,81.58 245.57,81.10 246.26,80.63 C246.96,80.15 247.65,79.68 248.35,79.22 C249.05,78.76 249.76,78.30 250.47,77.84 C251.17,77.39 251.88,76.94 252.60,76.50 C253.31,76.05 254.03,75.61 254.75,75.18 C255.47,74.75 256.19,74.32 256.92,73.89 C257.65,73.47 258.38,73.05 259.11,72.64 C259.85,72.22 260.58,71.82 261.32,71.41 C262.06,71.01 262.81,70.61 263.55,70.22 C264.30,69.83 265.05,69.44 265.80,69.06 C266.56,68.68 267.31,68.30 268.07,67.93 C268.83,67.56 269.59,67.20 270.36,66.84 C271.12,66.48 271.89,66.13 272.67,65.78 C273.44,65.43 274.21,65.09 274.99,64.75 C275.77,64.42 276.55,64.09 277.34,63.76 C278.12,63.44 278.91,63.12 279.70,62.81 C280.49,62.49 281.29,62.19 282.08,61.89 C282.88,61.58 283.68,61.29 284.48,61.00 C285.29,60.71 286.09,60.43 286.90,60.15 C287.71,59.88 288.53,59.61 289.34,59.34 C290.16,59.08 290.98,58.82 291.80,58.57 C292.62,58.32 293.45,58.07 294.27,57.83 C295.09,57.58 295.92,57.34 296.74,57.10 C297.56,56.85 298.37,56.60 299.18,56.34 C299.99,56.08 300.79,55.82 301.57,55.54 C302.36,55.25 303.14,54.96 303.90,54.65 C304.66,54.33 305.41,54.01 306.13,53.65 C306.86,53.30 307.57,52.92 308.25,52.51 C308.94,52.11 309.60,51.68 310.24,51.21 C310.88,50.74 311.49,50.24 312.07,49.70 C312.65,49.16 313.20,48.59 313.72,47.97 C314.24,47.35 314.72,46.68 315.18,45.98 C315.63,45.28 316.05,44.53 316.46,43.77 C316.87,43.01 317.25,42.21 317.63,41.42 C318.01,40.63 318.37,39.81 318.73,39.00 C319.10,38.20 319.46,37.39 319.83,36.59 C320.19,35.80 320.56,35.00 320.93,34.21 C321.30,33.42 321.67,32.64 322.04,31.86 C322.41,31.08 322.79,30.30 323.16,29.53 C323.53,28.75 323.91,27.99 324.29,27.22 C324.67,26.45 325.04,25.69 325.43,24.93 C325.81,24.17 326.19,23.42 326.57,22.67 C326.96,21.91 327.34,21.16 327.73,20.42 C328.12,19.67 328.51,18.93 328.90,18.18 C329.29,17.44 329.68,16.70 330.08,15.96 C330.47,15.22 330.87,14.49 331.27,13.75 C331.67,13.02 332.07,12.29 332.48,11.56 C332.88,10.82 333.28,10.09 333.69,9.36 C334.10,8.64 334.51,7.91 334.92,7.18 C335.33,6.45 335.75,5.73 336.16,5.00 C336.58,4.27 337.00,3.55 337.42,2.82 C337.84,2.10 338.27,1.37 338.69,0.64 C339.12,-0.08 339.55,-0.81 339.98,-1.54 C340.41,-2.26 340.84,-2.99 341.28,-3.72 C341.72,-4.45 342.38,-5.54 342.60,-5.91"/>
<path stroke="#f09010" d="M75.95,129.29 C76.32,129.53 77.44,130.23 78.18,130.71 C78.92,131.19 79.65,131.68 80.38,132.17 C81.11,132.66 81.83,133.16 82.55,133.67 C83.26,134.17 83.97,134.68 84.68,135.20 C85.38,135.72 86.08,136.25 86.77,136.78 C87.47,137.31 88.15,137.84 88.83,138.39 C89.51,138.93 90.19,139.48 90.85,140.03 C91.52,140.59 92.18,141.15 92.84,141.72 C93.49,142.28 94.14,142.86 94.79,143.43 C95.43,144.01 96.07,144.60 96.70,145.19 C97.33,145.78 97.95,146.38 98.57,146.98 C99.19,147.58 99.80,148.19 100.40,148.80 C101.01,149.41 101.61,150.03 102.20,150.66 C102.79,151.28 103.37,151.91 103.95,152.55 C104.53,153.18 105.10,153.82 105.67,154.47 C106.23,155.12 106.79,155.77 107.34,156.42 C107.89,157.08 108.44,157.74 108.98,158.41 C109.51,159.08 110.05,159.75 110.57,160.43 C111.09,161.11 111.61,161.79 112.12,162.48 C112.63,163.17 113.14,163.86 113.63,164.56 C114.13,165.26 114.62,165.96 115.10,166.67 C115.58,167.37 116.06,168.09 116.53,168.80 C116.99,169.52 117.46,170.24 117.91,170.97 C118.36,171.70 118.81,172.43 119.25,173.16 C119.69,173.90 120.12,174.64 120.55,175.39 C120.97,176.13 121.39,176.88 121.80,177.63 C122.21,178.39 122.61,179.14 123.01,179.91 C123.41,180.67 123.80,181.43 124.18,182.20 C124.57,182.97 124.94,183.75 125.31,184.52 C125.68,185.30 126.04,186.08 126.40,186.87 C126.75,187.65 127.10,188.44 127.45,189.23 C127.79,190.02 128.12,190.82 128.45,191.61 C128.78,192.41 129.10,193.21 129.42,194.02 C129.73,194.82 130.04,195.63 130.34,196.44 C130.65,197.25 130.94,198.06 131.23,198.88 C131.52,199.70 131.80,200.51 132.08,201.34 C132.35,202.16 132.62,202.98 132.89,203.81 C133.15,204.63 133.41,205.46 133.66,206.29 C133.91,207.13 134.15,207.96 134.39,208.80 C134.63,209.63 134.86,210.47 135.08,211.31 C135.31,212.15 135.53,212.99 135.74,213.83 C135.95,214.68 136.16,215.52 136.36,216.37 C136.56,217.22 136.75,218.07 136.94,218.92 C137.13,219.77 137.31,220.62 137.48,221.47 C137.66,222.32 137.83,223.18 137.99,224.03 C138.16,224.89 138.31,225.75 138.47,226.60 C138.62,227.46 138.76,228.32 138.90,229.18 C139.04,230.04 139.18,230.90 139.30,231.76 C139.43,232.62 139.55,233.49 139.67,234.35 C139.79,235.21 139.90,236.07 140.00,236.94 C140.11,237.80 140.21,238.67 140.30,239.53 C140.39,240.39 140.52,241.69 140.56,242.12"/>
<path stroke="#f09010" d="M145.57,241.70 C145.65,241.29 145.90,240.08 146.07,239.27 C146.24,238.46 146.41,237.64 146.59,236.83 C146.77,236.02 146.95,235.21 147.14,234.40 C147.32,233.59 147.51,232.78 147.71,231.98 C147.90,231.17 148.10,230.36 148.30,229.55 C148.50,228.74 148.71,227.93 148.91,227.13 C149.12,226.32 149.34,225.51 149.55,224.70 C149.77,223.90 149.99,223.09 150.21,222.29 C150.44,221.48 150.66,220.68 150.90,219.87 C151.13,219.07 151.36,218.26 151.60,217.46 C151.84,216.66 152.08,215.86 152.33,215.05 C152.57,214.25 152.82,213.45 153.08,212.65 C153.33,211.85 153.59,211.05 153.85,210.25 C154.11,209.46 154.37,208.66 154.64,207.86 C154.91,207.06 155.18,206.27 155.46,205.47 C155.73,204.68 156.01,203.88 156.30,203.09 C156.58,202.30 156.87,201.50 157.16,200.71 C157.45,199.92 157.74,199.13 158.04,198.34 C158.33,197.55 158.64,196.76 158.94,195.98 C159.24,195.19 159.55,194.40 159.86,193.62 C160.18,192.83 160.49,192.05 160.81,191.27 C161.13,190.49 161.45,189.70 161.78,188.92 C162.10,188.14 162.43,187.36 162.77,186.59 C163.10,185.81 163.44,185.03 163.78,184.26 C164.12,183.48 164.46,182.71 164.81,181.94 C165.15,181.16 165.51,180.39 165.86,179.62 C166.21,178.85 166.57,178.09 166.93,177.32 C167.29,176.55 167.66,175.79 168.03,175.03 C168.39,174.26 168.77,173.50 169.14,172.74 C169.52,171.98 169.90,171.22 170.28,170.46 C170.66,169.71 171.04,168.95 171.43,168.20 C171.82,167.44 172.21,166.69 172.61,165.94 C173.01,165.19 173.40,164.44 173.81,163.69 C174.21,162.95 174.62,162.20 175.03,161.46 C175.43,160.71 175.85,159.97 176.26,159.23 C176.68,158.49 177.10,157.75 177.52,157.02 C177.94,156.28 178.37,155.55 178.80,154.82 C179.23,154.08 179.66,153.35 180.10,152.63 C180.53,151.90 180.97,151.17 181.42,150.45 C181.86,149.72 182.31,149.00 182.76,148.28 C183.21,147.56 183.66,146.85 184.11,146.13 C184.57,145.41 185.03,144.70 185.49,143.99 C185.96,143.28 186.42,142.57 186.89,141.86 C187.36,141.16 187.83,140.45 188.31,139.75 C188.78,139.05 189.26,138.35 189.74,137.65 C190.23,136.95 190.71,136.26 191.20,135.56 C191.69,134.87 192.18,134.18 192.68,133.49 C193.17,132.81 193.67,132.12 194.17,131.44 C194.67,130.75 195.18,130.07 195.69,129.40 C196.19,128.72 196.70,128.04 197.22,127.37 C197.73,126.70 198.25,126.03 198.77,125.36 C199.29,124.69 199.82,124.03 200.34,123.36 C200.87,122.70 201.40,122.04 201.93,121.39 C202.47,120.73 203.00,120.08 203.54,119.42 C204.08,118.77 204.62,118.12 205.17,117.48 C205.71,116.83 206.26,116.19 206.82,115.55 C207.37,114.91 207.92,114.27 208.48,113.64 C209.04,113.01 209.60,112.37 210.16,111.75 C210.73,111.12 211.29,110.49 211.87,109.87 C212.44,109.25 213.01,108.63 213.59,108.02 C214.16,107.40 214.74,106.79 215.33,106.18 C215.91,105.57 216.50,104.97 217.09,104.37 C217.67,103.76 218.27,103.17 218.86,102.57 C219.46,101.98 220.06,101.39 220.66,100.80 C221.26,100.21 221.87,99.63 222.48,99.05 C223.09,98.47 223.70,97.89 224.31,97.32 C224.93,96.75 225.55,96.18 226.17,95.61 C226.79,95.05 227.42,94.49 228.04,93.93 C228.67,93.37 229.30,92.82 229.94,92.27 C230.57,91.72 231.21,91.18 231.85,90.64 C232.50,90.10 233.14,89.56 233.79,89.03 C234.44,88.50 235.09,87.97 235.74,87.45 C236.40,86.93 237.06,86.41 237.72,85.89 C238.38,85.38 239.04,84.87 239.71,84.36 C240.38,83.86 241.05,83.36 241.73,82.86 C242.40,82.37 243.08,81.87 243.76,81.39 C244.44,80.90 245.13,80.42 245.82,79.94 C246.51,79.47 247.20,79.00 247.89,78.53 C248.59,78.06 249.29,77.60 249.99,77.14 C250.69,76.69 251.40,76.23 252.11,75.79 C252.82,75.34 253.53,74.90 254.25,74.46 C254.96,74.03 255.68,73.60 256.41,73.17 C257.13,72.74 257.86,72.32 258.59,71.91 C259.32,71.49 260.05,71.09 260.79,70.68 C261.52,70.28 262.27,69.88 263.01,69.49 C263.75,69.09 264.50,68.71 265.25,68.32 C266.00,67.94 266.76,67.57 267.52,67.20 C268.28,66.83 269.04,66.46 269.80,66.11 C270.57,65.75 271.34,65.39 272.11,65.05 C272.89,64.70 273.66,64.36 274.44,64.03 C275.22,63.69 276.01,63.37 276.79,63.04 C277.58,62.72 278.37,62.41 279.17,62.10 C279.96,61.79 280.76,61.48 281.56,61.19 C282.36,60.89 283.17,60.60 283.98,60.32 C284.79,60.03 285.60,59.75 286.42,59.48 C287.23,59.21 288.05,58.95 288.88,58.69 C289.70,58.43 290.53,58.18 291.36,57.94 C292.19,57.69 293.03,57.46 293.86,57.22 C294.70,56.98 295.54,56.75 296.37,56.52 C297.20,56.28 298.03,56.04 298.85,55.80 C299.67,55.55 300.49,55.29 301.29,55.02 C302.09,54.75 302.88,54.47 303.66,54.17 C304.43,53.87 305.19,53.55 305.93,53.21 C306.67,52.86 307.39,52.49 308.09,52.10 C308.78,51.70 309.46,51.27 310.10,50.81 C310.75,50.35 311.37,49.85 311.95,49.32 C312.54,48.78 313.10,48.21 313.62,47.59 C314.14,46.96 314.62,46.29 315.08,45.59 C315.53,44.89 315.96,44.15 316.37,43.39 C316.78,42.63 317.16,41.84 317.55,41.05 C317.93,40.26 318.30,39.45 318.67,38.65 C319.05,37.86 319.42,37.06 319.80,36.27 C320.18,35.48 320.56,34.69 320.94,33.91 C321.32,33.13 321.70,32.36 322.09,31.58 C322.47,30.81 322.86,30.04 323.25,29.28 C323.64,28.51 324.03,27.75 324.42,26.99 C324.81,26.24 325.21,25.48 325.60,24.73 C326.00,23.98 326.40,23.23 326.80,22.48 C327.20,21.74 327.60,21.00 328.01,20.26 C328.41,19.51 328.81,18.78 329.22,18.04 C329.63,17.31 330.04,16.57 330.45,15.84 C330.86,15.11 331.27,14.38 331.69,13.65 C332.10,12.92 332.52,12.19 332.94,11.47 C333.35,10.74 333.77,10.01 334.19,9.29 C334.61,8.57 335.04,7.84 335.46,7.12 C335.89,6.40 336.31,5.67 336.74,4.95 C337.17,4.23 337.60,3.51 338.03,2.78 C338.46,2.06 338.89,1.34 339.32,0.62 C339.76,-0.11 340.19,-0.83 340.63,-1.55 C341.06,-2.28 341.50,-3.00 341.94,-3.73 C342.38,-4.45 343.05,-5.55 343.27,-5.91"/>
<path stroke="#d81010" d="M76.39,127.79 C76.74,128.02 77.77,128.72 78.46,129.19 C79.14,129.67 79.83,130.15 80.52,130.63 C81.20,131.11 81.89,131.60 82.57,132.09 C83.25,132.58 83.93,133.08 84.61,133.58 C85.29,134.08 85.97,134.58 86.65,135.09 C87.33,135.60 88.00,136.11 88.68,136.63 C89.35,137.15 90.02,137.67 90.69,138.20 C91.36,138.72 92.03,139.26 92.69,139.79 C93.36,140.33 94.02,140.87 94.68,141.41 C95.34,141.96 96.00,142.50 96.65,143.06 C97.30,143.61 97.96,144.17 98.60,144.73 C99.25,145.29 99.90,145.86 100.54,146.43 C101.18,147.00 101.82,147.57 102.45,148.15 C103.09,148.73 103.72,149.32 104.35,149.90 C104.97,150.49 105.60,151.08 106.22,151.68 C106.84,152.28 107.45,152.88 108.07,153.48 C108.68,154.08 109.28,154.69 109.89,155.31 C110.49,155.92 111.09,156.54 111.68,157.16 C112.28,157.78 112.86,158.41 113.45,159.04 C114.03,159.67 114.61,160.30 115.18,160.94 C115.76,161.58 116.33,162.22 116.89,162.87 C117.45,163.51 118.01,164.16 118.56,164.82 C119.12,165.47 119.66,166.13 120.20,166.79 C120.75,167.46 121.28,168.12 121.81,168.79 C122.34,169.47 122.86,170.14 123.38,170.82 C123.89,171.50 124.40,172.18 124.91,172.87 C125.41,173.56 125.91,174.25 126.40,174.94 C126.89,175.64 127.37,176.34 127.85,177.04 C128.33,177.75 128.80,178.45 129.26,179.16 C129.72,179.88 130.18,180.59 130.62,181.31 C131.07,182.03 131.51,182.75 131.95,183.48 C132.38,184.21 132.80,184.94 133.22,185.67 C133.64,186.41 134.05,187.15 134.45,187.89 C134.85,188.63 135.24,189.38 135.63,190.13 C136.01,190.88 136.39,191.63 136.76,192.39 C137.12,193.15 137.48,193.91 137.83,194.68 C138.18,195.44 138.52,196.21 138.86,196.99 C139.19,197.76 139.51,198.54 139.83,199.32 C140.14,200.10 140.44,200.89 140.74,201.68 C141.04,202.46 141.32,203.26 141.60,204.05 C141.87,204.85 142.14,205.65 142.40,206.45 C142.65,207.26 142.90,208.06 143.13,208.87 C143.37,209.69 143.60,210.50 143.81,211.32 C144.03,212.14 144.23,212.96 144.43,213.79 C144.62,214.61 144.81,215.44 144.98,216.27 C145.15,217.11 145.31,217.94 145.47,218.79 C145.62,219.63 145.76,220.47 145.88,221.32 C146.01,222.17 146.13,223.02 146.24,223.87 C146.34,224.73 146.44,225.59 146.52,226.45 C146.60,227.31 146.67,228.17 146.73,229.04 C146.79,229.91 146.83,230.79 146.87,231.66 C146.90,232.54 146.93,233.42 146.93,234.30 C146.94,235.18 146.94,236.07 146.93,236.96 C146.91,237.85 146.88,238.75 146.84,239.64 C146.80,240.54 146.60,242.35 146.68,242.35 C146.75,242.34 147.18,240.49 147.30,239.60 C147.42,238.71 147.35,237.86 147.39,236.99 C147.43,236.12 147.48,235.26 147.54,234.40 C147.60,233.55 147.67,232.69 147.75,231.84 C147.83,230.99 147.93,230.14 148.03,229.30 C148.13,228.46 148.24,227.62 148.36,226.78 C148.49,225.94 148.62,225.11 148.76,224.28 C148.90,223.45 149.05,222.62 149.21,221.80 C149.36,220.98 149.53,220.16 149.71,219.34 C149.89,218.52 150.07,217.71 150.26,216.90 C150.46,216.08 150.66,215.27 150.87,214.47 C151.08,213.66 151.30,212.86 151.52,212.06 C151.75,211.26 151.98,210.46 152.22,209.67 C152.46,208.87 152.71,208.08 152.97,207.29 C153.22,206.50 153.48,205.71 153.75,204.92 C154.02,204.14 154.30,203.35 154.58,202.57 C154.86,201.79 155.15,201.01 155.44,200.24 C155.74,199.46 156.04,198.68 156.34,197.91 C156.65,197.14 156.96,196.37 157.28,195.60 C157.60,194.83 157.92,194.06 158.25,193.30 C158.57,192.53 158.91,191.77 159.25,191.00 C159.58,190.24 159.93,189.48 160.27,188.72 C160.62,187.96 160.97,187.20 161.33,186.45 C161.68,185.69 162.04,184.94 162.41,184.18 C162.77,183.43 163.14,182.68 163.51,181.92 C163.88,181.17 164.25,180.42 164.63,179.67 C165.01,178.92 165.39,178.17 165.77,177.43 C166.16,176.68 166.54,175.93 166.93,175.19 C167.32,174.44 167.71,173.70 168.10,172.95 C168.50,172.21 168.89,171.46 169.29,170.72 C169.69,169.97 170.09,169.23 170.49,168.49 C170.89,167.75 171.29,167.00 171.70,166.26 C172.10,165.52 172.51,164.78 172.92,164.04 C173.33,163.30 173.74,162.56 174.15,161.82 C174.57,161.09 174.98,160.35 175.40,159.61 C175.82,158.88 176.23,158.14 176.66,157.41 C177.08,156.67 177.50,155.94 177.93,155.21 C178.35,154.48 178.78,153.75 179.21,153.02 C179.64,152.29 180.08,151.56 180.51,150.84 C180.95,150.11 181.39,149.38 181.83,148.66 C182.27,147.94 182.71,147.22 183.15,146.50 C183.60,145.78 184.05,145.06 184.50,144.34 C184.95,143.63 185.40,142.91 185.86,142.20 C186.32,141.49 186.77,140.78 187.24,140.07 C187.70,139.36 188.16,138.65 188.63,137.95 C189.10,137.24 189.57,136.54 190.04,135.84 C190.51,135.14 190.99,134.44 191.47,133.75 C191.95,133.05 192.43,132.36 192.92,131.67 C193.40,130.98 193.89,130.29 194.38,129.60 C194.87,128.92 195.37,128.23 195.86,127.55 C196.36,126.87 196.86,126.20 197.37,125.52 C197.87,124.85 198.38,124.18 198.89,123.51 C199.40,122.84 199.92,122.17 200.44,121.51 C200.95,120.85 201.48,120.19 202.00,119.53 C202.53,118.87 203.05,118.22 203.59,117.57 C204.12,116.92 204.65,116.27 205.19,115.63 C205.73,114.98 206.28,114.34 206.82,113.71 C207.37,113.07 207.92,112.44 208.48,111.81 C209.03,111.18 209.59,110.55 210.15,109.93 C210.71,109.31 211.28,108.69 211.85,108.07 C212.42,107.46 212.99,106.85 213.57,106.24 C214.15,105.63 214.73,105.03 215.31,104.43 C215.90,103.83 216.49,103.23 217.08,102.64 C217.67,102.05 218.27,101.46 218.87,100.88 C219.47,100.30 220.08,99.72 220.68,99.14 C221.29,98.56 221.90,97.99 222.52,97.42 C223.13,96.86 223.75,96.29 224.37,95.73 C225.00,95.17 225.62,94.62 226.25,94.07 C226.88,93.52 227.51,92.97 228.15,92.43 C228.79,91.88 229.43,91.35 230.07,90.81 C230.71,90.28 231.36,89.75 232.01,89.22 C232.66,88.70 233.32,88.17 233.97,87.66 C234.63,87.14 235.29,86.63 235.96,86.12 C236.62,85.61 237.29,85.11 237.96,84.61 C238.63,84.11 239.31,83.62 239.98,83.13 C240.66,82.64 241.34,82.15 242.03,81.67 C242.71,81.19 243.40,80.71 244.09,80.24 C244.78,79.77 245.48,79.30 246.17,78.84 C246.87,78.38 247.57,77.92 248.28,77.47 C248.98,77.01 249.69,76.56 250.40,76.12 C251.11,75.68 251.82,75.24 252.54,74.81 C253.26,74.37 253.98,73.94 254.70,73.52 C255.42,73.10 256.15,72.68 256.88,72.26 C257.61,71.85 258.34,71.44 259.07,71.03 C259.81,70.63 260.55,70.23 261.29,69.84 C262.03,69.44 262.77,69.05 263.52,68.67 C264.27,68.29 265.02,67.91 265.77,67.53 C266.52,67.16 267.28,66.79 268.04,66.43 C268.80,66.07 269.56,65.71 270.32,65.36 C271.09,65.00 271.85,64.65 272.62,64.31 C273.39,63.97 274.17,63.63 274.94,63.30 C275.72,62.97 276.50,62.64 277.28,62.32 C278.06,62.00 278.84,61.69 279.63,61.38 C280.42,61.07 281.21,60.76 282.00,60.47 C282.79,60.17 283.59,59.87 284.38,59.59 C285.18,59.30 285.98,59.02 286.78,58.74 C287.59,58.46 288.39,58.19 289.20,57.93 C290.01,57.66 290.82,57.40 291.63,57.15 C292.44,56.89 293.26,56.65 294.07,56.40 C294.89,56.15 295.70,55.91 296.51,55.66 C297.32,55.41 298.13,55.16 298.93,54.90 C299.73,54.64 300.52,54.37 301.30,54.09 C302.08,53.81 302.85,53.52 303.61,53.21 C304.37,52.89 305.11,52.57 305.83,52.22 C306.56,51.87 307.27,51.50 307.96,51.10 C308.64,50.70 309.31,50.28 309.95,49.82 C310.60,49.36 311.22,48.88 311.81,48.35 C312.40,47.83 312.96,47.27 313.50,46.67 C314.03,46.08 314.54,45.44 315.02,44.77 C315.51,44.11 315.96,43.41 316.41,42.70 C316.86,41.99 317.28,41.25 317.71,40.51 C318.13,39.76 318.54,39.01 318.95,38.25 C319.36,37.50 319.77,36.74 320.17,35.99 C320.58,35.23 320.98,34.47 321.38,33.71 C321.78,32.95 322.18,32.19 322.58,31.43 C322.97,30.67 323.37,29.91 323.76,29.15 C324.16,28.38 324.55,27.62 324.95,26.86 C325.34,26.10 325.73,25.34 326.13,24.58 C326.52,23.82 326.91,23.06 327.31,22.30 C327.70,21.54 328.10,20.78 328.49,20.03 C328.89,19.27 329.28,18.52 329.68,17.76 C330.08,17.01 330.48,16.26 330.88,15.51 C331.28,14.77 331.69,14.02 332.09,13.28 C332.50,12.54 332.91,11.80 333.32,11.06 C333.74,10.33 334.15,9.59 334.57,8.87 C334.99,8.14 335.41,7.41 335.84,6.69 C336.27,5.97 336.70,5.25 337.13,4.54 C337.57,3.83 338.01,3.12 338.45,2.42 C338.90,1.72 339.35,1.02 339.81,0.33 C340.26,-0.36 340.72,-1.05 341.19,-1.73 C341.66,-2.41 342.13,-3.08 342.61,-3.75 C343.09,-4.41 343.83,-5.40 344.08,-5.73"/>
<path stroke="#ec4010" d="M75.93,124.77 C76.32,124.97 77.48,125.56 78.25,125.96 C79.02,126.37 79.79,126.78 80.55,127.20 C81.31,127.62 82.07,128.05 82.82,128.49 C83.57,128.92 84.32,129.37 85.07,129.82 C85.81,130.27 86.55,130.72 87.28,131.19 C88.01,131.65 88.74,132.12 89.46,132.60 C90.19,133.08 90.91,133.57 91.62,134.06 C92.33,134.55 93.04,135.05 93.75,135.55 C94.45,136.06 95.15,136.57 95.84,137.09 C96.53,137.61 97.22,138.14 97.90,138.67 C98.58,139.20 99.26,139.74 99.93,140.29 C100.60,140.83 101.27,141.38 101.93,141.94 C102.59,142.50 103.24,143.06 103.89,143.63 C104.54,144.20 105.18,144.78 105.82,145.36 C106.45,145.94 107.08,146.53 107.71,147.13 C108.33,147.72 108.95,148.32 109.57,148.93 C110.18,149.54 110.79,150.15 111.39,150.77 C111.99,151.38 112.58,152.01 113.17,152.64 C113.76,153.26 114.34,153.90 114.92,154.54 C115.49,155.18 116.06,155.83 116.62,156.48 C117.18,157.13 117.74,157.78 118.29,158.44 C118.84,159.11 119.38,159.77 119.92,160.44 C120.45,161.12 120.98,161.79 121.50,162.48 C122.03,163.16 122.54,163.85 123.05,164.54 C123.56,165.23 124.06,165.93 124.55,166.63 C125.05,167.33 125.53,168.04 126.01,168.75 C126.49,169.46 126.97,170.17 127.43,170.89 C127.90,171.61 128.36,172.34 128.81,173.07 C129.26,173.80 129.70,174.53 130.14,175.27 C130.57,176.01 131.00,176.75 131.42,177.50 C131.84,178.24 132.25,178.99 132.66,179.75 C133.06,180.50 133.46,181.26 133.85,182.02 C134.24,182.79 134.62,183.55 134.99,184.32 C135.37,185.10 135.73,185.87 136.09,186.65 C136.44,187.43 136.79,188.21 137.13,188.99 C137.48,189.78 137.81,190.57 138.13,191.36 C138.46,192.15 138.77,192.95 139.08,193.75 C139.39,194.55 139.69,195.35 139.98,196.16 C140.27,196.97 140.55,197.78 140.82,198.59 C141.10,199.40 141.36,200.22 141.62,201.04 C141.87,201.86 142.12,202.68 142.36,203.50 C142.60,204.33 142.83,205.16 143.05,205.99 C143.27,206.82 143.48,207.65 143.68,208.49 C143.88,209.32 144.07,210.16 144.26,211.01 C144.44,211.85 144.62,212.69 144.78,213.54 C144.95,214.38 145.10,215.23 145.25,216.09 C145.39,216.94 145.53,217.79 145.66,218.65 C145.78,219.50 145.90,220.36 146.01,221.22 C146.12,222.08 146.22,222.95 146.31,223.81 C146.39,224.68 146.47,225.54 146.54,226.41 C146.61,227.28 146.67,228.15 146.72,229.02 C146.77,229.89 146.80,230.77 146.83,231.64 C146.86,232.52 146.88,233.40 146.89,234.28 C146.90,235.16 146.90,236.04 146.88,236.92 C146.87,237.80 146.85,238.68 146.81,239.57 C146.78,240.45 146.60,242.22 146.68,242.23 C146.77,242.23 147.24,240.48 147.34,239.61 C147.45,238.74 147.31,237.86 147.32,236.98 C147.32,236.11 147.33,235.24 147.36,234.37 C147.38,233.51 147.42,232.65 147.46,231.79 C147.51,230.93 147.57,230.07 147.63,229.21 C147.70,228.36 147.77,227.51 147.86,226.66 C147.94,225.81 148.04,224.97 148.15,224.13 C148.25,223.29 148.37,222.45 148.49,221.61 C148.61,220.77 148.75,219.94 148.89,219.11 C149.03,218.28 149.18,217.45 149.34,216.62 C149.50,215.80 149.67,214.98 149.85,214.16 C150.03,213.34 150.21,212.52 150.40,211.70 C150.60,210.89 150.80,210.08 151.01,209.27 C151.22,208.46 151.44,207.65 151.66,206.85 C151.89,206.04 152.12,205.24 152.36,204.44 C152.60,203.64 152.85,202.84 153.10,202.04 C153.36,201.25 153.62,200.46 153.89,199.66 C154.16,198.87 154.43,198.08 154.71,197.30 C154.99,196.51 155.28,195.73 155.58,194.94 C155.87,194.16 156.17,193.38 156.48,192.60 C156.79,191.82 157.10,191.05 157.42,190.27 C157.73,189.50 158.06,188.73 158.39,187.96 C158.72,187.19 159.05,186.42 159.39,185.65 C159.73,184.88 160.08,184.12 160.43,183.35 C160.77,182.59 161.13,181.83 161.49,181.07 C161.85,180.31 162.21,179.55 162.58,178.80 C162.95,178.04 163.32,177.28 163.70,176.53 C164.07,175.78 164.45,175.02 164.84,174.27 C165.22,173.52 165.61,172.77 166.00,172.03 C166.39,171.28 166.78,170.53 167.18,169.79 C167.58,169.04 167.98,168.30 168.39,167.56 C168.79,166.82 169.20,166.08 169.61,165.34 C170.02,164.60 170.43,163.86 170.85,163.12 C171.27,162.39 171.69,161.65 172.11,160.92 C172.53,160.19 172.96,159.46 173.39,158.73 C173.82,158.00 174.25,157.27 174.69,156.54 C175.13,155.81 175.57,155.09 176.01,154.37 C176.45,153.64 176.90,152.92 177.34,152.20 C177.79,151.48 178.25,150.77 178.70,150.05 C179.15,149.33 179.61,148.62 180.07,147.91 C180.54,147.20 181.00,146.49 181.47,145.78 C181.93,145.07 182.40,144.36 182.88,143.66 C183.35,142.95 183.83,142.25 184.31,141.55 C184.79,140.85 185.27,140.15 185.76,139.46 C186.24,138.76 186.73,138.07 187.22,137.38 C187.71,136.69 188.21,136.00 188.71,135.31 C189.20,134.62 189.70,133.94 190.21,133.25 C190.71,132.57 191.22,131.89 191.73,131.21 C192.24,130.53 192.75,129.86 193.27,129.18 C193.78,128.51 194.30,127.84 194.82,127.17 C195.34,126.50 195.87,125.84 196.39,125.17 C196.92,124.51 197.45,123.85 197.99,123.19 C198.52,122.53 199.06,121.88 199.59,121.22 C200.13,120.57 200.68,119.92 201.22,119.27 C201.77,118.62 202.31,117.98 202.86,117.33 C203.42,116.69 203.97,116.05 204.53,115.41 C205.08,114.78 205.64,114.14 206.20,113.51 C206.77,112.88 207.33,112.25 207.90,111.62 C208.47,111.00 209.04,110.37 209.61,109.75 C210.18,109.13 210.76,108.52 211.34,107.90 C211.92,107.29 212.50,106.68 213.09,106.07 C213.67,105.46 214.26,104.86 214.85,104.25 C215.44,103.65 216.03,103.05 216.63,102.46 C217.23,101.86 217.83,101.27 218.43,100.68 C219.03,100.10 219.64,99.51 220.24,98.93 C220.85,98.35 221.46,97.77 222.08,97.20 C222.69,96.62 223.31,96.05 223.93,95.48 C224.55,94.92 225.17,94.35 225.80,93.80 C226.43,93.24 227.06,92.68 227.69,92.13 C228.32,91.58 228.96,91.03 229.60,90.49 C230.24,89.95 230.88,89.41 231.52,88.87 C232.17,88.34 232.82,87.80 233.47,87.28 C234.12,86.75 234.77,86.23 235.43,85.71 C236.09,85.19 236.75,84.68 237.41,84.17 C238.08,83.66 238.74,83.16 239.41,82.66 C240.08,82.16 240.76,81.66 241.43,81.17 C242.11,80.68 242.79,80.19 243.47,79.71 C244.16,79.23 244.84,78.75 245.53,78.28 C246.22,77.81 246.92,77.34 247.61,76.88 C248.31,76.42 249.01,75.96 249.71,75.51 C250.42,75.05 251.12,74.61 251.83,74.16 C252.54,73.72 253.26,73.29 253.97,72.85 C254.69,72.42 255.41,72.00 256.13,71.58 C256.86,71.16 257.58,70.74 258.31,70.33 C259.04,69.92 259.78,69.51 260.51,69.12 C261.25,68.72 261.99,68.32 262.74,67.94 C263.48,67.55 264.23,67.17 264.98,66.79 C265.73,66.41 266.48,66.04 267.24,65.68 C268.00,65.31 268.76,64.95 269.53,64.60 C270.29,64.25 271.06,63.90 271.83,63.56 C272.61,63.22 273.38,62.89 274.16,62.56 C274.94,62.23 275.72,61.91 276.51,61.59 C277.30,61.27 278.09,60.96 278.88,60.66 C279.68,60.36 280.47,60.06 281.28,59.77 C282.08,59.48 282.88,59.19 283.69,58.92 C284.50,58.64 285.31,58.37 286.13,58.10 C286.94,57.84 287.76,57.58 288.59,57.33 C289.41,57.08 290.24,56.84 291.07,56.60 C291.90,56.36 292.74,56.13 293.57,55.91 C294.41,55.68 295.25,55.46 296.08,55.23 C296.91,55.00 297.75,54.77 298.57,54.54 C299.39,54.30 300.21,54.05 301.01,53.79 C301.82,53.53 302.61,53.26 303.39,52.97 C304.17,52.68 304.93,52.37 305.67,52.03 C306.42,51.69 307.14,51.34 307.84,50.95 C308.54,50.56 309.22,50.14 309.87,49.68 C310.52,49.23 311.14,48.74 311.73,48.21 C312.32,47.67 312.88,47.10 313.41,46.49 C313.94,45.87 314.43,45.21 314.90,44.52 C315.37,43.84 315.81,43.11 316.25,42.38 C316.68,41.64 317.10,40.88 317.51,40.12 C317.93,39.36 318.33,38.59 318.74,37.83 C319.15,37.06 319.56,36.30 319.97,35.54 C320.38,34.78 320.79,34.02 321.20,33.27 C321.61,32.51 322.02,31.76 322.44,31.01 C322.85,30.26 323.26,29.51 323.68,28.76 C324.09,28.01 324.51,27.26 324.93,26.52 C325.34,25.78 325.76,25.03 326.18,24.29 C326.60,23.55 327.02,22.81 327.44,22.08 C327.87,21.34 328.29,20.61 328.71,19.87 C329.14,19.14 329.56,18.41 329.99,17.68 C330.42,16.95 330.84,16.22 331.27,15.49 C331.70,14.77 332.13,14.04 332.57,13.32 C333.00,12.59 333.43,11.87 333.87,11.15 C334.30,10.43 334.74,9.71 335.18,9.00 C335.62,8.28 336.06,7.56 336.50,6.85 C336.94,6.14 337.39,5.42 337.83,4.71 C338.28,4.00 338.72,3.29 339.17,2.58 C339.62,1.87 340.07,1.17 340.53,0.46 C340.98,-0.25 341.43,-0.95 341.89,-1.65 C342.35,-2.36 342.81,-3.06 343.27,-3.76 C343.73,-4.46 344.43,-5.51 344.66,-5.86"/>
</g>
<g stroke="#000" stroke-width="1.3" fill="none">
<path d="M76.40,0 V242.20 H434.50 V0"/>
<path stroke-width="1.2" d="M76.40,242.20h5.2M434.50,242.20h-5.2M76.40,213.35h5.2M434.50,213.35h-5.2M76.40,184.50h5.2M434.50,184.50h-5.2M76.40,155.65h5.2M434.50,155.65h-5.2M76.40,126.80h5.2M434.50,126.80h-5.2M76.40,97.95h5.2M434.50,97.95h-5.2M76.40,69.10h5.2M434.50,69.10h-5.2M76.40,40.25h5.2M434.50,40.25h-5.2M76.40,11.40h5.2M434.50,11.40h-5.2M76.40,233.52h2.8M434.50,233.52h-2.8M76.40,228.44h2.8M434.50,228.44h-2.8M76.40,224.83h2.8M434.50,224.83h-2.8M76.40,222.03h2.8M434.50,222.03h-2.8M76.40,219.75h2.8M434.50,219.75h-2.8M76.40,217.82h2.8M434.50,217.82h-2.8M76.40,216.15h2.8M434.50,216.15h-2.8M76.40,214.67h2.8M434.50,214.67h-2.8M76.40,204.67h2.8M434.50,204.67h-2.8M76.40,199.59h2.8M434.50,199.59h-2.8M76.40,195.98h2.8M434.50,195.98h-2.8M76.40,193.18h2.8M434.50,193.18h-2.8M76.40,190.90h2.8M434.50,190.90h-2.8M76.40,188.97h2.8M434.50,188.97h-2.8M76.40,187.30h2.8M434.50,187.30h-2.8M76.40,185.82h2.8M434.50,185.82h-2.8M76.40,175.82h2.8M434.50,175.82h-2.8M76.40,170.74h2.8M434.50,170.74h-2.8M76.40,167.13h2.8M434.50,167.13h-2.8M76.40,164.33h2.8M434.50,164.33h-2.8M76.40,162.05h2.8M434.50,162.05h-2.8M76.40,160.12h2.8M434.50,160.12h-2.8M76.40,158.45h2.8M434.50,158.45h-2.8M76.40,156.97h2.8M434.50,156.97h-2.8M76.40,146.97h2.8M434.50,146.97h-2.8M76.40,141.89h2.8M434.50,141.89h-2.8M76.40,138.28h2.8M434.50,138.28h-2.8M76.40,135.48h2.8M434.50,135.48h-2.8M76.40,133.20h2.8M434.50,133.20h-2.8M76.40,131.27h2.8M434.50,131.27h-2.8M76.40,129.60h2.8M434.50,129.60h-2.8M76.40,128.12h2.8M434.50,128.12h-2.8M76.40,118.12h2.8M434.50,118.12h-2.8M76.40,113.04h2.8M434.50,113.04h-2.8M76.40,109.43h2.8M434.50,109.43h-2.8M76.40,106.63h2.8M434.50,106.63h-2.8M76.40,104.35h2.8M434.50,104.35h-2.8M76.40,102.42h2.8M434.50,102.42h-2.8M76.40,100.75h2.8M434.50,100.75h-2.8M76.40,99.27h2.8M434.50,99.27h-2.8M76.40,89.27h2.8M434.50,89.27h-2.8M76.40,84.19h2.8M434.50,84.19h-2.8M76.40,80.58h2.8M434.50,80.58h-2.8M76.40,77.78h2.8M434.50,77.78h-2.8M76.40,75.50h2.8M434.50,75.50h-2.8M76.40,73.57h2.8M434.50,73.57h-2.8M76.40,71.90h2.8M434.50,71.90h-2.8M76.40,70.42h2.8M434.50,70.42h-2.8M76.40,60.42h2.8M434.50,60.42h-2.8M76.40,55.34h2.8M434.50,55.34h-2.8M76.40,51.73h2.8M434.50,51.73h-2.8M76.40,48.93h2.8M434.50,48.93h-2.8M76.40,46.65h2.8M434.50,46.65h-2.8M76.40,44.72h2.8M434.50,44.72h-2.8M76.40,43.05h2.8M434.50,43.05h-2.8M76.40,41.57h2.8M434.50,41.57h-2.8M76.40,31.57h2.8M434.50,31.57h-2.8M76.40,26.49h2.8M434.50,26.49h-2.8M76.40,22.88h2.8M434.50,22.88h-2.8M76.40,20.08h2.8M434.50,20.08h-2.8M76.40,17.80h2.8M434.50,17.80h-2.8M76.40,15.87h2.8M434.50,15.87h-2.8M76.40,14.20h2.8M434.50,14.20h-2.8M76.40,12.72h2.8M434.50,12.72h-2.8M76.40,2.72h2.8M434.50,2.72h-2.8M76.40,242.20v-5.2M94.31,242.20v-2.8M112.21,242.20v-5.2M130.12,242.20v-2.8M148.02,242.20v-5.2M165.93,242.20v-2.8M183.83,242.20v-5.2M201.74,242.20v-2.8M219.64,242.20v-5.2M237.55,242.20v-2.8M255.45,242.20v-5.2M273.36,242.20v-2.8M291.26,242.20v-5.2M309.17,242.20v-2.8M327.07,242.20v-5.2M344.98,242.20v-2.8M362.88,242.20v-5.2M380.79,242.20v-2.8M398.69,242.20v-5.2M416.60,242.20v-2.8M434.50,242.20v-5.2"/>
</g>
<text x="70.6" y="249.00" text-anchor="end" font-size="18.7">10<tspan font-size="12.2" dy="-7.6">-11</tspan></text>
<text x="70.6" y="220.15" text-anchor="end" font-size="18.7">10<tspan font-size="12.2" dy="-7.6">-10</tspan></text>
<text x="70.6" y="191.30" text-anchor="end" font-size="18.7">10<tspan font-size="12.2" dy="-7.6">-9</tspan></text>
<text x="70.6" y="162.45" text-anchor="end" font-size="18.7">10<tspan font-size="12.2" dy="-7.6">-8</tspan></text>
<text x="70.6" y="133.60" text-anchor="end" font-size="18.7">10<tspan font-size="12.2" dy="-7.6">-7</tspan></text>
<text x="70.6" y="104.75" text-anchor="end" font-size="18.7">10<tspan font-size="12.2" dy="-7.6">-6</tspan></text>
<text x="70.6" y="75.90" text-anchor="end" font-size="18.7">10<tspan font-size="12.2" dy="-7.6">-5</tspan></text>
<text x="70.6" y="47.05" text-anchor="end" font-size="18.7">10<tspan font-size="12.2" dy="-7.6">-4</tspan></text>
<text x="70.6" y="18.20" text-anchor="end" font-size="18.7">10<tspan font-size="12.2" dy="-7.6">-3</tspan></text>
<text x="76.40" y="263.80" text-anchor="middle" font-size="18.7">-2</text>
<text x="112.21" y="263.80" text-anchor="middle" font-size="18.7">-1</text>
<text x="148.02" y="263.80" text-anchor="middle" font-size="18.7">0</text>
<text x="183.83" y="263.80" text-anchor="middle" font-size="18.7">1</text>
<text x="219.64" y="263.80" text-anchor="middle" font-size="18.7">2</text>
<text x="255.45" y="263.80" text-anchor="middle" font-size="18.7">3</text>
<text x="291.26" y="263.80" text-anchor="middle" font-size="18.7">4</text>
<text x="327.07" y="263.80" text-anchor="middle" font-size="18.7">5</text>
<text x="362.88" y="263.80" text-anchor="middle" font-size="18.7">6</text>
<text x="398.69" y="263.80" text-anchor="middle" font-size="18.7">7</text>
<text x="434.50" y="263.80" text-anchor="middle" font-size="18.7">8</text>
<text transform="translate(26,158.5) rotate(-90)" font-size="24.3">Current (A)</text>
<text x="100.3" y="22.2" font-size="19">T = 300 K</text>
<text x="276.2" y="105.8" font-size="14.6">Stress time (min):</text>
<g stroke-width="1.6">
<line x1="276.3" y1="119.50" x2="309.5" y2="119.50" stroke="#6a1fcf"/>
<text x="312.4" y="124.60" font-size="14.3" stroke="none">0</text>
<line x1="352.0" y1="119.50" x2="385.0" y2="119.50" stroke="#5530c8"/>
<text x="388.4" y="124.60" font-size="14.3" stroke="none">1</text>
<line x1="276.3" y1="137.98" x2="309.5" y2="137.98" stroke="#3a2aa0"/>
<text x="312.4" y="143.08" font-size="14.3" stroke="none">3</text>
<line x1="352.0" y1="137.98" x2="385.0" y2="137.98" stroke="#2850b0"/>
<text x="388.4" y="143.08" font-size="14.3" stroke="none">8</text>
<line x1="276.3" y1="156.46" x2="309.5" y2="156.46" stroke="#3a90c8"/>
<text x="312.4" y="161.56" font-size="14.3" stroke="none">20</text>
<line x1="352.0" y1="156.46" x2="385.0" y2="156.46" stroke="#40c0d0"/>
<text x="388.4" y="161.56" font-size="14.3" stroke="none">40</text>
<line x1="276.3" y1="174.94" x2="309.5" y2="174.94" stroke="#55d8c0"/>
<text x="312.4" y="180.04" font-size="14.3" stroke="none">90</text>
<line x1="352.0" y1="174.94" x2="385.0" y2="174.94" stroke="#50d070"/>
<text x="388.4" y="180.04" font-size="14.3" stroke="none">190</text>
<line x1="276.3" y1="193.42" x2="309.5" y2="193.42" stroke="#5ce030"/>
<text x="312.4" y="198.52" font-size="14.3" stroke="none">390</text>
<line x1="352.0" y1="193.42" x2="385.0" y2="193.42" stroke="#c0e030"/>
<text x="388.4" y="198.52" font-size="14.3" stroke="none">900</text>
<line x1="276.3" y1="211.90" x2="309.5" y2="211.90" stroke="#f0c830"/>
<text x="312.4" y="217.00" font-size="14.3" stroke="none">1900</text>
<line x1="352.0" y1="211.90" x2="385.0" y2="211.90" stroke="#e89830"/>
<text x="388.4" y="217.00" font-size="14.3" stroke="none">3900</text>
<line x1="276.3" y1="230.38" x2="309.5" y2="230.38" stroke="#e05520"/>
<text x="312.4" y="235.48" font-size="14.3" stroke="none">8900</text>
<line x1="352.0" y1="230.38" x2="385.0" y2="230.38" stroke="#d02020"/>
<text x="388.4" y="235.48" font-size="14.3" stroke="none">19000</text>
</g>
<line x1="100.0" y1="241.5" x2="100.0" y2="138.5" stroke="#000" stroke-width="1.5"/>
<path d="M100.00,129.40 L102.70,138.90 L100.00,137.70 L97.30,138.90 Z" fill="#000"/>
<line x1="214.7" y1="176.0" x2="214.7" y2="109.5" stroke="#000" stroke-width="1.5"/>
<path d="M214.70,100.40 L217.40,109.90 L214.70,108.70 L212.00,109.90 Z" fill="#000"/>
</svg></body></html>
